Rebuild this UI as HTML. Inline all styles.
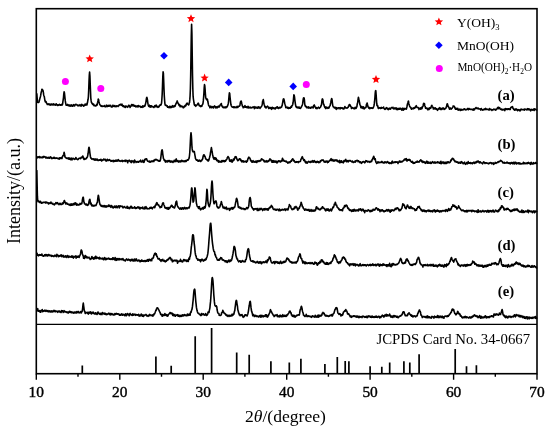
<!DOCTYPE html>
<html><head><meta charset="utf-8"><title>XRD</title>
<style>html,body{margin:0;padding:0;background:#fff;}svg{display:block;}</style>
</head><body>
<svg width="550" height="429" viewBox="0 0 550 429">
<rect width="550" height="429" fill="#fff"/>
<g fill="none" stroke="#000" stroke-width="1.6" stroke-linejoin="round" stroke-linecap="round">
<path d="M36.8 93.9L37.1 97.5L37.4 101.0L37.7 102.4L38.0 102.4L38.3 102.4L38.6 102.5L38.9 102.2L39.2 101.3L39.5 100.0L39.8 98.9L40.1 97.7L40.4 96.7L40.7 95.4L41.0 93.4L41.3 91.9L41.6 91.0L41.9 89.2L42.2 89.4L42.5 89.8L42.8 89.9L43.1 90.9L43.4 92.7L43.7 94.9L44.0 96.0L44.3 96.6L44.6 98.6L44.9 100.5L45.2 101.5L45.5 102.0L45.8 101.9L46.1 101.7L46.4 102.9L46.7 103.2L47.0 103.7L47.3 104.5L47.6 104.1L47.9 104.2L48.2 104.4L48.5 104.0L48.8 103.8L49.1 103.9L49.4 104.7L49.7 104.7L50.0 104.4L50.3 105.1L50.6 104.6L50.9 104.0L51.2 104.8L51.5 104.5L51.8 104.1L52.1 104.8L52.4 104.6L52.7 104.6L53.0 104.9L53.3 103.7L53.6 104.0L53.9 104.6L54.2 104.9L54.5 104.6L54.8 104.3L55.1 104.4L55.4 104.9L55.7 105.2L56.0 104.2L56.3 103.9L56.6 104.7L56.9 104.8L57.2 104.7L57.5 105.4L57.8 105.5L58.1 104.9L58.4 105.0L58.7 105.3L59.0 104.8L59.3 104.4L59.6 104.9L59.9 104.7L60.2 105.1L60.5 104.8L60.8 104.9L61.1 105.1L61.4 104.8L61.7 104.3L62.0 104.1L62.3 105.0L62.6 104.1L62.9 101.6L63.2 99.7L63.5 97.6L63.8 93.9L64.1 91.8L64.4 92.7L64.7 95.4L65.0 98.4L65.3 100.9L65.6 102.8L65.9 104.2L66.2 105.3L66.5 105.3L66.8 104.9L67.1 105.4L67.4 105.0L67.7 104.4L68.0 105.0L68.3 105.6L68.6 105.1L68.9 105.6L69.2 105.2L69.5 105.2L69.8 105.0L70.1 106.3L70.4 105.9L70.7 105.9L71.0 105.1L71.3 104.8L71.6 105.8L71.9 105.4L72.2 106.1L72.5 105.7L72.8 106.1L73.1 105.1L73.4 104.6L73.7 105.6L74.0 105.5L74.3 105.6L74.6 105.9L74.9 105.0L75.2 104.6L75.5 104.6L75.8 104.3L76.1 104.3L76.4 104.6L76.7 104.8L77.0 105.0L77.3 104.9L77.6 105.4L77.9 105.8L78.2 105.5L78.5 105.6L78.8 105.1L79.1 105.6L79.4 105.7L79.7 105.1L80.0 104.6L80.3 105.2L80.6 105.6L80.9 106.1L81.2 105.6L81.5 105.9L81.8 104.4L82.1 104.9L82.4 105.1L82.7 105.1L83.0 105.0L83.3 105.4L83.6 106.1L83.9 105.5L84.2 105.8L84.5 105.3L84.8 104.9L85.1 104.0L85.4 104.9L85.7 105.1L86.0 104.3L86.3 104.1L86.6 104.2L86.9 105.0L87.2 103.5L87.5 102.5L87.8 100.6L88.1 99.3L88.4 96.6L88.7 90.4L89.0 82.1L89.3 75.3L89.6 72.1L89.9 75.9L90.2 83.8L90.5 91.3L90.8 98.1L91.1 100.4L91.4 102.3L91.7 102.7L92.0 103.3L92.3 103.5L92.6 104.4L92.9 104.5L93.2 104.2L93.5 104.0L93.8 105.3L94.1 105.7L94.4 105.7L94.7 105.4L95.0 105.7L95.3 105.9L95.6 105.8L95.9 106.0L96.2 105.3L96.5 105.0L96.8 104.3L97.1 105.1L97.4 103.3L97.7 102.2L98.0 100.7L98.3 99.0L98.6 99.6L98.9 101.4L99.2 102.6L99.5 103.7L99.8 104.4L100.1 104.8L100.4 105.3L100.7 105.8L101.0 106.1L101.3 106.3L101.6 105.9L101.9 105.7L102.2 106.3L102.5 106.3L102.8 106.5L103.1 106.2L103.4 106.3L103.7 106.3L104.0 106.3L104.3 105.6L104.6 105.9L104.9 106.3L105.2 106.9L105.5 106.3L105.8 106.3L106.1 105.8L106.4 105.2L106.7 106.6L107.0 106.7L107.3 106.6L107.6 105.6L107.9 106.1L108.2 106.1L108.5 105.4L108.8 106.1L109.1 105.9L109.4 106.1L109.7 105.3L110.0 105.5L110.3 105.6L110.6 105.3L110.9 106.2L111.2 106.8L111.5 106.4L111.8 106.6L112.1 107.0L112.4 106.6L112.7 105.9L113.0 105.2L113.3 106.1L113.6 106.0L113.9 106.0L114.2 106.5L114.5 106.4L114.8 105.5L115.1 106.1L115.4 106.1L115.7 106.6L116.0 106.4L116.3 106.6L116.6 105.9L116.9 105.9L117.2 105.8L117.5 106.0L117.8 106.1L118.1 106.5L118.4 105.7L118.7 105.8L119.0 105.2L119.3 104.8L119.6 104.9L119.9 104.5L120.2 104.8L120.5 104.3L120.8 104.2L121.1 104.8L121.4 105.4L121.7 104.6L122.0 104.1L122.3 105.1L122.6 105.8L122.9 106.4L123.2 106.0L123.5 105.7L123.8 106.6L124.1 106.8L124.4 106.3L124.7 106.4L125.0 106.7L125.3 107.5L125.6 106.2L125.9 106.0L126.2 106.3L126.5 106.6L126.8 106.3L127.1 106.6L127.4 107.0L127.7 107.3L128.0 106.4L128.3 106.1L128.6 105.9L128.9 105.2L129.2 105.5L129.5 106.1L129.8 106.5L130.1 107.4L130.4 106.9L130.7 106.4L131.0 106.3L131.3 105.2L131.6 104.7L131.9 104.5L132.2 104.9L132.5 105.8L132.8 104.9L133.1 104.7L133.4 105.2L133.7 105.9L134.0 106.1L134.3 106.2L134.6 105.4L134.9 105.5L135.2 106.0L135.5 106.4L135.8 106.9L136.1 106.0L136.4 106.6L136.7 106.4L137.0 106.6L137.3 106.0L137.6 105.8L137.9 106.9L138.2 106.5L138.5 105.6L138.8 106.5L139.1 106.1L139.4 106.3L139.7 106.3L140.0 106.0L140.3 106.8L140.6 106.5L140.9 107.3L141.2 107.0L141.5 106.8L141.8 106.9L142.1 107.3L142.4 106.1L142.7 105.9L143.0 106.1L143.3 106.9L143.6 106.9L143.9 106.4L144.2 106.1L144.5 105.3L144.8 106.2L145.1 105.3L145.4 104.4L145.7 103.1L146.0 101.6L146.3 99.3L146.6 97.7L146.9 97.4L147.2 98.4L147.5 100.4L147.8 102.8L148.1 104.4L148.4 105.6L148.7 106.3L149.0 105.3L149.3 105.1L149.6 106.0L149.9 106.9L150.2 106.4L150.5 105.8L150.8 107.2L151.1 106.8L151.4 105.8L151.7 106.1L152.0 106.5L152.3 106.4L152.6 106.6L152.9 106.9L153.2 106.9L153.5 107.3L153.8 106.9L154.1 107.3L154.4 106.4L154.7 105.8L155.0 105.5L155.3 106.1L155.6 106.7L155.9 106.8L156.2 105.1L156.5 106.2L156.8 106.2L157.1 106.8L157.4 106.4L157.7 106.8L158.0 107.4L158.3 106.7L158.6 106.4L158.9 106.8L159.2 106.4L159.5 105.9L159.8 105.1L160.1 105.2L160.4 104.7L160.7 105.1L161.0 104.9L161.3 104.0L161.6 102.8L161.9 98.7L162.2 93.9L162.5 86.3L162.8 77.1L163.1 71.8L163.4 73.5L163.7 81.1L164.0 89.2L164.3 96.1L164.6 100.2L164.9 103.6L165.2 105.2L165.5 105.2L165.8 105.4L166.1 105.2L166.4 105.8L166.7 106.0L167.0 106.2L167.3 105.9L167.6 107.2L167.9 106.9L168.2 107.2L168.5 107.0L168.8 106.8L169.1 107.8L169.4 107.4L169.7 106.2L170.0 106.6L170.3 106.6L170.6 106.6L170.9 107.7L171.2 106.6L171.5 107.3L171.8 106.3L172.1 107.3L172.4 106.5L172.7 105.7L173.0 106.7L173.3 106.9L173.6 106.3L173.9 106.8L174.2 105.8L174.5 106.6L174.8 106.4L175.1 106.3L175.4 105.0L175.7 104.6L176.0 103.5L176.3 103.2L176.6 102.4L176.9 101.9L177.2 100.9L177.5 101.8L177.8 102.5L178.1 103.6L178.4 103.6L178.7 104.3L179.0 105.3L179.3 105.5L179.6 104.7L179.9 105.9L180.2 106.8L180.5 106.3L180.8 105.7L181.1 106.4L181.4 106.6L181.7 106.4L182.0 106.7L182.3 106.3L182.6 106.7L182.9 107.1L183.2 107.8L183.5 107.3L183.8 107.5L184.1 106.9L184.4 106.1L184.7 106.0L185.0 106.6L185.3 105.4L185.6 105.1L185.9 105.7L186.2 104.5L186.5 103.7L186.8 104.1L187.1 103.1L187.4 103.7L187.7 104.0L188.0 104.3L188.3 104.5L188.6 104.9L188.9 104.5L189.2 103.0L189.5 102.6L189.8 99.9L190.1 95.8L190.4 88.5L190.7 74.7L191.0 55.4L191.3 35.5L191.6 24.3L191.9 33.4L192.2 53.9L192.5 74.6L192.8 88.1L193.1 96.2L193.4 99.0L193.7 100.9L194.0 103.0L194.3 104.6L194.6 105.3L194.9 105.0L195.2 104.9L195.5 105.6L195.8 106.3L196.1 105.6L196.4 105.2L196.7 105.3L197.0 104.8L197.3 104.3L197.6 104.5L197.9 103.6L198.2 103.2L198.5 103.5L198.8 104.3L199.1 105.4L199.4 106.0L199.7 105.7L200.0 105.8L200.3 106.0L200.6 105.9L200.9 106.6L201.2 105.9L201.5 106.2L201.8 106.3L202.1 105.2L202.4 104.7L202.7 104.3L203.0 103.3L203.3 100.9L203.6 97.5L203.9 93.4L204.2 87.8L204.5 84.6L204.8 85.7L205.1 89.3L205.4 94.1L205.7 97.6L206.0 98.6L206.3 98.9L206.6 99.7L206.9 99.2L207.2 99.1L207.5 99.5L207.8 101.5L208.1 102.8L208.4 104.4L208.7 105.6L209.0 105.9L209.3 106.1L209.6 106.4L209.9 107.8L210.2 106.5L210.5 106.9L210.8 106.2L211.1 106.6L211.4 107.6L211.7 107.0L212.0 107.6L212.3 107.2L212.6 107.5L212.9 106.5L213.2 106.7L213.5 107.9L213.8 107.5L214.1 106.8L214.4 106.7L214.7 105.9L215.0 106.8L215.3 106.6L215.6 106.9L215.9 107.9L216.2 107.2L216.5 106.9L216.8 106.8L217.1 107.6L217.4 107.6L217.7 106.8L218.0 106.3L218.3 106.9L218.6 107.0L218.9 106.2L219.2 107.1L219.5 106.2L219.8 106.0L220.1 105.1L220.4 104.5L220.7 104.6L221.0 104.0L221.3 103.5L221.6 104.9L221.9 105.9L222.2 106.2L222.5 106.9L222.8 106.5L223.1 107.4L223.4 107.3L223.7 107.4L224.0 107.9L224.3 107.6L224.6 107.1L224.9 107.3L225.2 106.9L225.5 107.4L225.8 107.9L226.1 107.6L226.4 106.7L226.7 106.7L227.0 106.9L227.3 106.6L227.6 105.5L227.9 105.0L228.2 103.9L228.5 102.2L228.8 98.8L229.1 95.4L229.4 92.9L229.7 93.4L230.0 96.8L230.3 99.6L230.6 102.1L230.9 104.6L231.2 105.6L231.5 106.1L231.8 106.8L232.1 106.7L232.4 107.2L232.7 107.2L233.0 106.9L233.3 106.8L233.6 106.9L233.9 107.6L234.2 107.2L234.5 106.9L234.8 107.6L235.1 107.6L235.4 107.4L235.7 107.4L236.0 107.1L236.3 107.1L236.6 107.6L236.9 106.7L237.2 106.3L237.5 106.5L237.8 107.4L238.1 106.7L238.4 106.8L238.7 106.5L239.0 106.1L239.3 106.1L239.6 105.8L239.9 105.6L240.2 103.3L240.5 101.9L240.8 101.4L241.1 101.0L241.4 101.7L241.7 103.2L242.0 104.4L242.3 105.9L242.6 106.4L242.9 106.5L243.2 107.7L243.5 107.4L243.8 107.5L244.1 107.0L244.4 106.5L244.7 106.1L245.0 105.7L245.3 107.2L245.6 106.7L245.9 107.1L246.2 107.3L246.5 106.8L246.8 107.2L247.1 107.7L247.4 107.6L247.7 107.6L248.0 106.4L248.3 107.7L248.6 107.9L248.9 107.1L249.2 107.8L249.5 107.5L249.8 107.5L250.1 107.7L250.4 107.1L250.7 107.8L251.0 107.5L251.3 107.9L251.6 107.7L251.9 107.7L252.2 107.3L252.5 107.4L252.8 107.0L253.1 107.1L253.4 106.9L253.7 107.4L254.0 107.4L254.3 108.6L254.6 107.2L254.9 106.6L255.2 107.9L255.5 107.6L255.8 107.9L256.1 107.6L256.4 107.2L256.7 107.2L257.0 107.2L257.3 108.3L257.6 107.9L257.9 107.1L258.2 108.0L258.5 107.8L258.8 106.7L259.1 107.0L259.4 107.6L259.7 107.9L260.0 108.5L260.3 107.7L260.6 107.7L260.9 107.0L261.2 106.8L261.5 106.5L261.8 105.8L262.1 104.9L262.4 103.2L262.7 100.9L263.0 100.3L263.3 99.6L263.6 101.5L263.9 103.3L264.2 104.7L264.5 105.4L264.8 106.5L265.1 107.2L265.4 106.8L265.7 106.7L266.0 108.0L266.3 107.5L266.6 107.1L266.9 106.9L267.2 106.6L267.5 106.1L267.8 106.7L268.1 106.9L268.4 107.3L268.7 108.5L269.0 107.8L269.3 107.5L269.6 107.6L269.9 107.5L270.2 108.4L270.5 108.4L270.8 107.6L271.1 108.2L271.4 108.5L271.7 109.3L272.0 108.5L272.3 107.2L272.6 107.5L272.9 108.2L273.2 108.3L273.5 108.5L273.8 107.9L274.1 108.1L274.4 108.6L274.7 108.2L275.0 108.1L275.3 109.0L275.6 108.0L275.9 107.8L276.2 107.4L276.5 107.6L276.8 107.1L277.1 108.1L277.4 106.9L277.7 107.9L278.0 107.4L278.3 108.0L278.6 108.5L278.9 107.9L279.2 107.8L279.5 107.3L279.8 107.5L280.1 108.0L280.4 107.3L280.7 107.7L281.0 107.4L281.3 107.0L281.6 107.0L281.9 105.8L282.2 105.3L282.5 103.5L282.8 102.1L283.1 99.9L283.4 99.0L283.7 98.8L284.0 99.5L284.3 100.9L284.6 102.6L284.9 103.9L285.2 105.0L285.5 105.9L285.8 107.6L286.1 107.2L286.4 107.1L286.7 107.3L287.0 107.2L287.3 108.1L287.6 107.3L287.9 107.2L288.2 108.4L288.5 108.4L288.8 108.0L289.1 107.6L289.4 108.2L289.7 107.7L290.0 107.8L290.3 108.1L290.6 107.6L290.9 106.9L291.2 106.3L291.5 107.2L291.8 105.9L292.1 105.9L292.4 105.4L292.7 104.5L293.0 103.0L293.3 101.1L293.6 97.9L293.9 94.8L294.2 95.4L294.5 96.9L294.8 99.6L295.1 101.8L295.4 104.1L295.7 105.5L296.0 106.7L296.3 107.1L296.6 107.3L296.9 106.7L297.2 107.7L297.5 107.3L297.8 107.6L298.1 107.9L298.4 107.9L298.7 107.3L299.0 106.9L299.3 107.9L299.6 108.3L299.9 108.3L300.2 108.3L300.5 108.4L300.8 107.8L301.1 107.1L301.4 107.1L301.7 106.0L302.0 105.7L302.3 105.0L302.6 103.9L302.9 101.5L303.2 99.4L303.5 97.9L303.8 97.8L304.1 98.0L304.4 99.8L304.7 103.6L305.0 105.3L305.3 106.1L305.6 106.6L305.9 106.4L306.2 106.4L306.5 107.2L306.8 107.0L307.1 107.9L307.4 107.7L307.7 107.0L308.0 107.5L308.3 106.8L308.6 107.3L308.9 108.1L309.2 107.5L309.5 107.5L309.8 107.4L310.1 107.6L310.4 108.3L310.7 108.2L311.0 107.9L311.3 107.1L311.6 107.4L311.9 107.3L312.2 107.4L312.5 107.0L312.8 107.7L313.1 108.0L313.4 106.4L313.7 105.5L314.0 105.7L314.3 104.9L314.6 105.8L314.9 106.9L315.2 107.0L315.5 107.5L315.8 108.3L316.1 108.0L316.4 108.0L316.7 107.6L317.0 108.7L317.3 108.0L317.6 108.1L317.9 107.9L318.2 107.7L318.5 107.2L318.8 107.5L319.1 107.9L319.4 108.4L319.7 107.8L320.0 107.3L320.3 107.3L320.6 106.9L320.9 106.1L321.2 105.4L321.5 104.5L321.8 102.1L322.1 99.7L322.4 98.9L322.7 99.3L323.0 100.5L323.3 102.7L323.6 104.5L323.9 104.5L324.2 105.6L324.5 106.7L324.8 107.3L325.1 106.8L325.4 108.1L325.7 108.6L326.0 108.5L326.3 107.9L326.6 107.2L326.9 107.4L327.2 107.5L327.5 107.9L327.8 108.3L328.1 108.0L328.4 107.4L328.7 108.1L329.0 108.0L329.3 106.8L329.6 106.3L329.9 106.0L330.2 105.4L330.5 103.7L330.8 102.7L331.1 100.7L331.4 99.3L331.7 98.5L332.0 99.4L332.3 102.0L332.6 104.6L332.9 105.8L333.2 106.8L333.5 106.7L333.8 107.0L334.1 107.6L334.4 108.0L334.7 107.8L335.0 107.2L335.3 107.2L335.6 108.0L335.9 108.3L336.2 109.4L336.5 108.1L336.8 107.7L337.1 108.4L337.4 108.1L337.7 108.3L338.0 108.6L338.3 107.8L338.6 107.8L338.9 107.8L339.2 107.8L339.5 107.8L339.8 108.2L340.1 108.9L340.4 108.2L340.7 107.7L341.0 108.0L341.3 107.9L341.6 108.2L341.9 108.2L342.2 107.8L342.5 108.1L342.8 108.7L343.1 109.0L343.4 108.5L343.7 109.0L344.0 108.8L344.3 107.7L344.6 107.5L344.9 106.5L345.2 107.3L345.5 107.9L345.8 107.7L346.1 108.0L346.4 108.0L346.7 108.1L347.0 107.8L347.3 108.0L347.6 107.8L347.9 107.5L348.2 107.2L348.5 106.0L348.8 106.2L349.1 104.9L349.4 104.6L349.7 104.6L350.0 105.0L350.3 105.4L350.6 106.3L350.9 106.5L351.2 107.1L351.5 108.5L351.8 108.1L352.1 107.8L352.4 107.6L352.7 108.0L353.0 108.2L353.3 108.4L353.6 108.1L353.9 108.3L354.2 108.8L354.5 108.6L354.8 108.4L355.1 107.3L355.4 107.7L355.7 108.4L356.0 108.0L356.3 108.1L356.6 107.1L356.9 106.7L357.2 104.4L357.5 103.3L357.8 101.8L358.1 99.1L358.4 97.3L358.7 98.5L359.0 100.3L359.3 101.4L359.6 102.6L359.9 104.6L360.2 105.2L360.5 105.7L360.8 107.4L361.1 107.9L361.4 107.7L361.7 107.0L362.0 106.6L362.3 108.0L362.6 108.2L362.9 108.4L363.2 107.2L363.5 106.8L363.8 108.4L364.1 109.0L364.4 108.7L364.7 108.3L365.0 108.0L365.3 107.7L365.6 107.0L365.9 107.6L366.2 106.4L366.5 104.2L366.8 104.3L367.1 103.0L367.4 104.3L367.7 105.3L368.0 106.9L368.3 107.0L368.6 107.4L368.9 108.2L369.2 107.5L369.5 107.7L369.8 108.7L370.1 108.5L370.4 108.2L370.7 107.8L371.0 107.9L371.3 107.9L371.6 108.2L371.9 108.1L372.2 107.8L372.5 107.9L372.8 108.4L373.1 107.9L373.4 107.3L373.7 106.5L374.0 105.5L374.3 103.7L374.6 101.2L374.9 97.7L375.2 93.5L375.5 90.8L375.8 90.6L376.1 94.2L376.4 98.9L376.7 103.2L377.0 105.6L377.3 105.7L377.6 105.3L377.9 107.1L378.2 108.0L378.5 108.5L378.8 107.7L379.1 107.8L379.4 108.0L379.7 108.1L380.0 107.7L380.3 108.3L380.6 108.1L380.9 108.4L381.2 108.2L381.5 107.4L381.8 108.2L382.1 107.8L382.4 107.8L382.7 107.8L383.0 107.7L383.3 108.0L383.6 107.1L383.9 108.0L384.2 108.6L384.5 108.9L384.8 109.3L385.1 109.4L385.4 109.2L385.7 108.6L386.0 108.1L386.3 107.7L386.6 108.2L386.9 108.6L387.2 108.4L387.5 108.2L387.8 109.2L388.1 109.6L388.4 108.9L388.7 109.3L389.0 109.0L389.3 108.2L389.6 108.5L389.9 108.4L390.2 109.1L390.5 109.1L390.8 108.4L391.1 107.7L391.4 107.7L391.7 107.5L392.0 107.7L392.3 107.9L392.6 107.8L392.9 107.3L393.2 108.4L393.5 108.9L393.8 108.3L394.1 108.2L394.4 108.8L394.7 108.1L395.0 108.3L395.3 108.4L395.6 108.0L395.9 107.9L396.2 109.4L396.5 108.6L396.8 108.2L397.1 109.5L397.4 109.2L397.7 109.7L398.0 109.6L398.3 108.6L398.6 109.2L398.9 109.2L399.2 108.4L399.5 108.4L399.8 109.3L400.1 108.9L400.4 108.2L400.7 108.3L401.0 108.7L401.3 108.7L401.6 109.9L401.9 110.2L402.2 109.4L402.5 108.6L402.8 108.2L403.1 108.7L403.4 110.1L403.7 109.7L404.0 108.5L404.3 108.6L404.6 109.2L404.9 108.6L405.2 108.5L405.5 108.9L405.8 109.0L406.1 108.7L406.4 109.1L406.7 107.8L407.0 106.5L407.3 104.7L407.6 103.6L407.9 102.7L408.2 101.5L408.5 101.1L408.8 103.7L409.1 104.4L409.4 105.4L409.7 106.3L410.0 106.9L410.3 106.8L410.6 107.9L410.9 107.7L411.2 107.9L411.5 109.2L411.8 108.8L412.1 108.8L412.4 108.6L412.7 108.3L413.0 108.1L413.3 108.8L413.6 108.1L413.9 107.7L414.2 107.7L414.5 108.3L414.8 108.1L415.1 107.7L415.4 106.7L415.7 106.3L416.0 106.5L416.3 105.7L416.6 106.9L416.9 107.4L417.2 107.5L417.5 107.5L417.8 107.4L418.1 107.5L418.4 107.9L418.7 108.6L419.0 109.6L419.3 108.6L419.6 108.5L419.9 108.4L420.2 107.9L420.5 108.2L420.8 109.3L421.1 108.6L421.4 107.6L421.7 107.4L422.0 108.6L422.3 107.6L422.6 106.6L422.9 106.5L423.2 105.2L423.5 103.7L423.8 103.3L424.1 103.6L424.4 103.5L424.7 105.2L425.0 106.1L425.3 106.9L425.6 108.3L425.9 108.1L426.2 108.4L426.5 108.2L426.8 108.0L427.1 108.6L427.4 108.4L427.7 109.7L428.0 109.7L428.3 108.6L428.6 108.3L428.9 108.5L429.2 109.4L429.5 108.2L429.8 107.8L430.1 107.7L430.4 107.8L430.7 108.3L431.0 107.1L431.3 106.4L431.6 105.6L431.9 105.3L432.2 106.5L432.5 107.1L432.8 107.1L433.1 107.4L433.4 109.0L433.7 108.5L434.0 108.0L434.3 108.2L434.6 108.8L434.9 108.9L435.2 107.7L435.5 108.8L435.8 109.0L436.1 109.2L436.4 108.7L436.7 109.4L437.0 109.0L437.3 109.8L437.6 110.3L437.9 109.5L438.2 109.3L438.5 109.1L438.8 108.3L439.1 109.0L439.4 108.1L439.7 107.7L440.0 108.9L440.3 109.3L440.6 108.6L440.9 108.3L441.2 109.4L441.5 108.5L441.8 109.4L442.1 108.9L442.4 108.5L442.7 108.8L443.0 107.7L443.3 108.3L443.6 108.8L443.9 109.0L444.2 109.4L444.5 108.5L444.8 108.9L445.1 108.6L445.4 108.7L445.7 108.3L446.0 108.0L446.3 106.8L446.6 106.3L446.9 104.7L447.2 103.7L447.5 104.1L447.8 105.2L448.1 106.6L448.4 106.4L448.7 107.3L449.0 107.6L449.3 108.8L449.6 109.2L449.9 109.0L450.2 108.0L450.5 108.1L450.8 108.7L451.1 109.0L451.4 109.1L451.7 108.5L452.0 108.5L452.3 107.9L452.6 107.4L452.9 106.8L453.2 105.9L453.5 106.3L453.8 106.3L454.1 106.2L454.4 106.4L454.7 107.7L455.0 107.6L455.3 108.8L455.6 109.3L455.9 109.3L456.2 108.2L456.5 108.9L456.8 108.9L457.1 109.4L457.4 109.1L457.7 108.2L458.0 109.4L458.3 110.2L458.6 109.7L458.9 109.7L459.2 109.4L459.5 109.5L459.8 109.2L460.1 110.3L460.4 110.5L460.7 109.2L461.0 109.4L461.3 109.3L461.6 110.1L461.9 109.7L462.2 109.8L462.5 109.5L462.8 110.0L463.1 109.9L463.4 109.7L463.7 109.5L464.0 108.8L464.3 109.5L464.6 108.9L464.9 109.0L465.2 109.4L465.5 109.8L465.8 109.9L466.1 109.7L466.4 109.6L466.7 109.7L467.0 109.1L467.3 109.3L467.6 108.9L467.9 108.4L468.2 108.8L468.5 109.7L468.8 109.0L469.1 108.5L469.4 109.2L469.7 109.0L470.0 109.0L470.3 109.2L470.6 109.5L470.9 109.5L471.2 109.3L471.5 109.4L471.8 109.4L472.1 109.6L472.4 109.7L472.7 109.6L473.0 110.2L473.3 109.0L473.6 108.9L473.9 109.2L474.2 109.9L474.5 109.7L474.8 109.1L475.1 108.4L475.4 108.4L475.7 107.9L476.0 107.5L476.3 108.1L476.6 108.5L476.9 108.2L477.2 108.1L477.5 108.7L477.8 108.4L478.1 108.1L478.4 108.2L478.7 108.9L479.0 109.0L479.3 108.9L479.6 109.0L479.9 109.0L480.2 108.8L480.5 109.6L480.8 110.1L481.1 109.2L481.4 108.5L481.7 109.2L482.0 109.5L482.3 109.8L482.6 110.1L482.9 110.0L483.2 110.0L483.5 109.5L483.8 109.5L484.1 109.1L484.4 109.2L484.7 109.7L485.0 109.3L485.3 108.5L485.6 108.4L485.9 109.5L486.2 109.3L486.5 109.1L486.8 109.0L487.1 109.5L487.4 109.4L487.7 109.3L488.0 109.3L488.3 109.4L488.6 109.9L488.9 109.8L489.2 109.9L489.5 108.6L489.8 109.0L490.1 109.7L490.4 109.2L490.7 109.3L491.0 109.3L491.3 109.5L491.6 109.8L491.9 110.5L492.2 110.2L492.5 109.7L492.8 109.8L493.1 109.8L493.4 109.4L493.7 109.2L494.0 109.7L494.3 109.7L494.6 109.2L494.9 109.3L495.2 109.6L495.5 109.8L495.8 110.2L496.1 109.3L496.4 109.0L496.7 109.2L497.0 108.6L497.3 108.4L497.6 107.5L497.9 108.2L498.2 108.7L498.5 107.3L498.8 107.2L499.1 108.0L499.4 108.5L499.7 107.8L500.0 108.6L500.3 109.1L500.6 109.3L500.9 109.4L501.2 109.3L501.5 109.1L501.8 109.0L502.1 110.1L502.4 109.8L502.7 110.0L503.0 109.6L503.3 109.5L503.6 109.5L503.9 109.8L504.2 109.4L504.5 109.0L504.8 110.6L505.1 109.8L505.4 109.0L505.7 108.6L506.0 109.0L506.3 109.2L506.6 109.1L506.9 109.5L507.2 108.9L507.5 109.4L507.8 109.5L508.1 108.9L508.4 108.7L508.7 108.9L509.0 109.3L509.3 109.1L509.6 109.1L509.9 109.4L510.2 109.5L510.5 108.4L510.8 107.6L511.1 107.5L511.4 107.1L511.7 107.1L512.0 106.8L512.3 106.6L512.6 106.9L512.9 108.2L513.2 108.3L513.5 109.0L513.8 109.5L514.1 109.7L514.4 109.4L514.7 110.3L515.0 110.2L515.3 109.6L515.6 109.3L515.9 108.8L516.2 109.7L516.5 109.9L516.8 109.4L517.1 109.5L517.4 109.5L517.7 110.8L518.0 109.7L518.3 109.8L518.6 109.9L518.9 109.6L519.2 110.0L519.5 110.4L519.8 110.9L520.1 110.7L520.4 110.8L520.7 109.4L521.0 109.2L521.3 109.1L521.6 109.6L521.9 109.5L522.2 109.5L522.5 109.8L522.8 109.8L523.1 109.4L523.4 109.7L523.7 109.7L524.0 109.8L524.3 110.1L524.6 109.0L524.9 109.3L525.2 109.4L525.5 109.4L525.8 109.4L526.1 109.3L526.4 109.4L526.7 110.0L527.0 109.9L527.3 109.0L527.6 108.7L527.9 109.1L528.2 108.9L528.5 109.7L528.8 109.7L529.1 108.9L529.4 109.8L529.7 109.6L530.0 109.3L530.3 110.4L530.6 110.9L530.9 110.0L531.2 109.8L531.5 109.4L531.8 109.9L532.1 109.7L532.4 110.1L532.7 109.8L533.0 109.9L533.3 109.5L533.6 109.1L533.9 110.1L534.2 110.5L534.5 108.9L534.8 109.6L535.1 109.3L535.4 109.1L535.7 109.8L536.0 109.8L536.3 109.9L536.6 110.0"/>
<path d="M36.8 157.2L37.1 157.9L37.4 157.8L37.7 156.9L38.0 156.9L38.3 156.9L38.6 157.4L38.9 157.3L39.2 157.3L39.5 156.5L39.8 157.8L40.1 157.4L40.4 157.6L40.7 157.2L41.0 157.1L41.3 157.6L41.6 157.7L41.9 157.3L42.2 157.3L42.5 157.6L42.8 156.9L43.1 156.6L43.4 157.4L43.7 156.9L44.0 156.4L44.3 156.8L44.6 157.0L44.9 156.7L45.2 156.7L45.5 157.5L45.8 158.0L46.1 157.5L46.4 157.2L46.7 157.8L47.0 158.0L47.3 157.6L47.6 158.0L47.9 158.2L48.2 157.6L48.5 157.3L48.8 157.8L49.1 158.0L49.4 158.2L49.7 157.2L50.0 157.2L50.3 157.2L50.6 156.9L50.9 157.8L51.2 158.1L51.5 157.7L51.8 158.6L52.1 158.5L52.4 158.4L52.7 158.3L53.0 158.3L53.3 157.5L53.6 158.2L53.9 158.2L54.2 157.3L54.5 158.0L54.8 158.1L55.1 158.4L55.4 158.0L55.7 158.1L56.0 158.2L56.3 157.8L56.6 158.3L56.9 158.2L57.2 158.3L57.5 158.1L57.8 158.7L58.1 158.6L58.4 158.3L58.7 158.7L59.0 159.1L59.3 159.1L59.6 157.8L59.9 158.6L60.2 158.5L60.5 158.1L60.8 157.8L61.1 158.5L61.4 157.7L61.7 158.3L62.0 158.4L62.3 156.9L62.6 156.7L62.9 155.7L63.2 155.5L63.5 155.2L63.8 154.2L64.1 152.3L64.4 153.4L64.7 155.5L65.0 157.0L65.3 157.3L65.6 157.3L65.9 158.0L66.2 158.1L66.5 158.0L66.8 158.0L67.1 158.5L67.4 158.6L67.7 158.4L68.0 158.2L68.3 157.8L68.6 158.3L68.9 159.1L69.2 158.4L69.5 158.0L69.8 159.2L70.1 159.2L70.4 159.7L70.7 158.8L71.0 158.3L71.3 158.0L71.6 159.4L71.9 160.0L72.2 158.5L72.5 158.4L72.8 158.8L73.1 158.3L73.4 158.5L73.7 158.6L74.0 158.9L74.3 159.3L74.6 159.0L74.9 159.2L75.2 158.7L75.5 158.7L75.8 157.6L76.1 157.9L76.4 159.0L76.7 158.7L77.0 159.1L77.3 159.3L77.6 159.6L77.9 159.5L78.2 159.4L78.5 158.8L78.8 158.4L79.1 158.3L79.4 158.3L79.7 158.1L80.0 158.3L80.3 158.6L80.6 158.7L80.9 158.1L81.2 157.2L81.5 157.6L81.8 157.6L82.1 157.5L82.4 156.8L82.7 156.1L83.0 156.5L83.3 158.2L83.6 158.5L83.9 159.3L84.2 159.5L84.5 158.4L84.8 158.8L85.1 159.0L85.4 159.1L85.7 159.0L86.0 158.8L86.3 158.5L86.6 157.6L86.9 157.8L87.2 157.2L87.5 156.6L87.8 155.1L88.1 153.5L88.4 151.0L88.7 148.3L89.0 147.2L89.3 148.1L89.6 150.4L89.9 153.1L90.2 155.2L90.5 157.0L90.8 157.9L91.1 158.5L91.4 158.2L91.7 159.1L92.0 158.7L92.3 158.7L92.6 159.0L92.9 159.0L93.2 159.4L93.5 159.0L93.8 158.8L94.1 159.1L94.4 160.1L94.7 159.6L95.0 159.0L95.3 159.3L95.6 159.1L95.9 160.2L96.2 159.2L96.5 159.8L96.8 159.9L97.1 159.1L97.4 159.9L97.7 160.4L98.0 160.2L98.3 160.1L98.6 160.4L98.9 160.1L99.2 160.1L99.5 159.9L99.8 160.1L100.1 159.6L100.4 160.2L100.7 159.7L101.0 159.4L101.3 160.2L101.6 161.0L101.9 160.6L102.2 160.0L102.5 160.3L102.8 159.9L103.1 160.0L103.4 159.9L103.7 159.0L104.0 159.9L104.3 159.6L104.6 159.5L104.9 159.2L105.2 159.2L105.5 159.7L105.8 160.7L106.1 161.1L106.4 160.5L106.7 160.7L107.0 160.0L107.3 159.3L107.6 160.2L107.9 160.5L108.2 160.2L108.5 160.5L108.8 160.5L109.1 159.8L109.4 159.5L109.7 160.1L110.0 160.2L110.3 160.3L110.6 161.0L110.9 161.3L111.2 160.5L111.5 160.8L111.8 161.1L112.1 161.0L112.4 161.0L112.7 160.5L113.0 161.0L113.3 161.7L113.6 161.1L113.9 160.4L114.2 160.9L114.5 161.3L114.8 160.8L115.1 160.5L115.4 161.2L115.7 160.2L116.0 160.7L116.3 160.5L116.6 160.2L116.9 161.2L117.2 160.8L117.5 160.2L117.8 160.8L118.1 160.4L118.4 159.7L118.7 160.2L119.0 160.9L119.3 161.1L119.6 160.9L119.9 160.9L120.2 161.0L120.5 160.9L120.8 161.4L121.1 161.0L121.4 161.0L121.7 161.0L122.0 160.3L122.3 160.6L122.6 161.6L122.9 161.2L123.2 160.8L123.5 161.0L123.8 160.8L124.1 161.0L124.4 160.7L124.7 160.9L125.0 160.4L125.3 161.4L125.6 160.7L125.9 160.2L126.2 160.7L126.5 160.8L126.8 161.0L127.1 160.6L127.4 161.5L127.7 162.8L128.0 160.9L128.3 161.1L128.6 161.0L128.9 161.0L129.2 160.2L129.5 160.4L129.8 161.3L130.1 161.4L130.4 161.9L130.7 161.0L131.0 161.5L131.3 162.6L131.6 161.1L131.9 160.7L132.2 161.1L132.5 161.3L132.8 161.7L133.1 161.4L133.4 161.0L133.7 161.6L134.0 162.8L134.3 161.9L134.6 160.1L134.9 160.9L135.2 161.0L135.5 161.6L135.8 161.6L136.1 162.4L136.4 162.2L136.7 162.0L137.0 161.6L137.3 161.5L137.6 161.7L137.9 162.2L138.2 161.8L138.5 161.5L138.8 162.1L139.1 161.7L139.4 161.4L139.7 161.1L140.0 161.1L140.3 160.9L140.6 160.2L140.9 161.8L141.2 161.9L141.5 161.5L141.8 162.0L142.1 161.8L142.4 161.4L142.7 160.2L143.0 161.1L143.3 161.8L143.6 162.3L143.9 162.4L144.2 161.8L144.5 160.1L144.8 159.3L145.1 159.9L145.4 159.5L145.7 159.3L146.0 158.7L146.3 158.7L146.6 158.7L146.9 159.9L147.2 160.2L147.5 160.9L147.8 161.3L148.1 161.2L148.4 161.4L148.7 161.4L149.0 161.8L149.3 161.6L149.6 161.1L149.9 161.2L150.2 162.2L150.5 161.6L150.8 161.9L151.1 161.6L151.4 161.1L151.7 161.0L152.0 161.4L152.3 161.6L152.6 161.5L152.9 160.7L153.2 160.8L153.5 161.2L153.8 161.6L154.1 160.0L154.4 160.6L154.7 160.2L155.0 160.1L155.3 159.4L155.6 159.5L155.9 159.9L156.2 159.4L156.5 159.6L156.8 159.8L157.1 159.7L157.4 160.5L157.7 160.4L158.0 160.3L158.3 160.7L158.6 160.8L158.9 161.2L159.2 160.8L159.5 160.5L159.8 161.2L160.1 160.8L160.4 160.0L160.7 158.5L161.0 156.2L161.3 153.5L161.6 151.1L161.9 150.0L162.2 149.9L162.5 151.3L162.8 154.3L163.1 156.2L163.4 158.4L163.7 158.9L164.0 159.5L164.3 160.5L164.6 160.6L164.9 160.2L165.2 161.5L165.5 162.1L165.8 160.9L166.1 161.9L166.4 161.1L166.7 161.0L167.0 161.0L167.3 160.7L167.6 161.9L167.9 161.7L168.2 161.0L168.5 161.0L168.8 160.6L169.1 161.2L169.4 161.7L169.7 160.6L170.0 161.0L170.3 161.6L170.6 162.1L170.9 162.2L171.2 161.3L171.5 161.1L171.8 161.5L172.1 161.3L172.4 161.3L172.7 162.1L173.0 162.4L173.3 161.7L173.6 161.3L173.9 161.4L174.2 160.3L174.5 160.8L174.8 160.6L175.1 161.8L175.4 161.0L175.7 160.2L176.0 159.7L176.3 158.9L176.6 160.6L176.9 161.4L177.2 160.8L177.5 161.4L177.8 161.5L178.1 160.7L178.4 161.7L178.7 162.1L179.0 161.6L179.3 161.4L179.6 161.6L179.9 160.7L180.2 161.4L180.5 161.8L180.8 161.0L181.1 161.7L181.4 161.0L181.7 160.3L182.0 161.0L182.3 160.9L182.6 161.2L182.9 160.9L183.2 161.6L183.5 161.0L183.8 161.3L184.1 160.9L184.4 161.1L184.7 161.7L185.0 161.3L185.3 160.8L185.6 160.5L185.9 161.5L186.2 161.3L186.5 160.7L186.8 160.7L187.1 160.0L187.4 159.8L187.7 159.8L188.0 160.2L188.3 159.8L188.6 159.0L188.9 158.9L189.2 157.8L189.5 155.5L189.8 152.4L190.1 147.0L190.4 141.0L190.7 135.5L191.0 132.7L191.3 135.0L191.6 139.6L191.9 145.8L192.2 148.9L192.5 151.0L192.8 151.3L193.1 151.9L193.4 151.7L193.7 151.3L194.0 151.4L194.3 151.5L194.6 153.3L194.9 155.1L195.2 156.6L195.5 158.6L195.8 159.1L196.1 159.6L196.4 160.1L196.7 159.7L197.0 159.8L197.3 160.1L197.6 160.8L197.9 161.0L198.2 161.2L198.5 161.3L198.8 160.2L199.1 160.5L199.4 160.7L199.7 160.2L200.0 160.5L200.3 161.4L200.6 161.5L200.9 161.3L201.2 160.7L201.5 160.4L201.8 160.5L202.1 159.6L202.4 159.3L202.7 158.8L203.0 157.0L203.3 155.7L203.6 155.0L203.9 154.8L204.2 154.9L204.5 155.5L204.8 156.5L205.1 156.6L205.4 157.8L205.7 159.0L206.0 159.1L206.3 159.2L206.6 159.4L206.9 159.8L207.2 160.1L207.5 159.9L207.8 160.6L208.1 161.1L208.4 160.4L208.7 160.5L209.0 159.6L209.3 158.3L209.6 157.5L209.9 156.1L210.2 155.0L210.5 152.5L210.8 151.3L211.1 149.3L211.4 147.6L211.7 149.4L212.0 151.5L212.3 152.7L212.6 155.0L212.9 155.7L213.2 157.5L213.5 157.9L213.8 159.0L214.1 158.1L214.4 157.7L214.7 158.9L215.0 159.3L215.3 157.8L215.6 158.0L215.9 158.0L216.2 158.5L216.5 159.7L216.8 160.6L217.1 159.9L217.4 160.8L217.7 160.9L218.0 160.5L218.3 161.9L218.6 162.1L218.9 161.1L219.2 161.9L219.5 161.4L219.8 161.3L220.1 162.0L220.4 161.6L220.7 161.6L221.0 162.2L221.3 162.2L221.6 161.7L221.9 160.5L222.2 160.5L222.5 161.6L222.8 161.0L223.1 161.1L223.4 160.7L223.7 160.9L224.0 160.7L224.3 161.7L224.6 160.8L224.9 160.9L225.2 161.0L225.5 161.3L225.8 160.0L226.1 160.1L226.4 159.8L226.7 159.5L227.0 158.8L227.3 157.6L227.6 157.1L227.9 156.5L228.2 156.9L228.5 157.2L228.8 157.6L229.1 158.7L229.4 159.9L229.7 161.1L230.0 160.4L230.3 160.9L230.6 161.3L230.9 159.9L231.2 159.8L231.5 160.2L231.8 161.1L232.1 162.2L232.4 161.6L232.7 161.5L233.0 160.6L233.3 159.2L233.6 159.1L233.9 160.3L234.2 159.5L234.5 158.3L234.8 158.2L235.1 156.7L235.4 157.3L235.7 157.4L236.0 156.7L236.3 157.2L236.6 158.7L236.9 158.8L237.2 159.9L237.5 159.8L237.8 160.7L238.1 160.6L238.4 160.2L238.7 159.9L239.0 159.9L239.3 158.7L239.6 158.9L239.9 158.9L240.2 159.3L240.5 159.1L240.8 160.6L241.1 160.2L241.4 160.2L241.7 161.6L242.0 162.0L242.3 161.1L242.6 160.8L242.9 161.1L243.2 160.9L243.5 161.2L243.8 162.1L244.1 161.7L244.4 161.4L244.7 161.5L245.0 161.4L245.3 161.7L245.6 161.7L245.9 161.1L246.2 161.4L246.5 162.2L246.8 161.2L247.1 160.7L247.4 161.1L247.7 159.7L248.0 158.6L248.3 158.5L248.6 157.3L248.9 157.1L249.2 157.6L249.5 157.8L249.8 158.1L250.1 158.8L250.4 159.6L250.7 160.7L251.0 160.4L251.3 160.8L251.6 161.9L251.9 161.3L252.2 162.1L252.5 162.1L252.8 161.2L253.1 160.7L253.4 161.5L253.7 161.9L254.0 162.0L254.3 161.7L254.6 162.2L254.9 162.2L255.2 161.2L255.5 162.1L255.8 161.7L256.1 161.2L256.4 161.5L256.7 162.5L257.0 162.0L257.3 160.7L257.6 161.3L257.9 161.4L258.2 161.3L258.5 161.0L258.8 160.7L259.1 161.5L259.4 160.9L259.7 160.9L260.0 160.6L260.3 160.5L260.6 160.9L260.9 160.4L261.2 159.4L261.5 158.8L261.8 158.8L262.1 159.5L262.4 159.4L262.7 159.7L263.0 159.9L263.3 160.3L263.6 160.6L263.9 160.3L264.2 161.7L264.5 161.0L264.8 161.2L265.1 162.0L265.4 161.7L265.7 161.5L266.0 161.0L266.3 160.7L266.6 161.5L266.9 162.0L267.2 161.3L267.5 161.9L267.8 160.9L268.1 160.8L268.4 161.3L268.7 161.0L269.0 160.9L269.3 160.0L269.6 159.4L269.9 158.9L270.2 159.1L270.5 159.4L270.8 159.7L271.1 160.7L271.4 160.5L271.7 160.4L272.0 162.3L272.3 161.2L272.6 160.9L272.9 162.2L273.2 162.2L273.5 161.0L273.8 160.7L274.1 161.1L274.4 162.1L274.7 161.5L275.0 161.2L275.3 161.7L275.6 162.1L275.9 161.1L276.2 161.2L276.5 161.2L276.8 162.8L277.1 162.9L277.4 162.3L277.7 161.8L278.0 161.8L278.3 160.8L278.6 161.5L278.9 160.9L279.2 160.8L279.5 161.1L279.8 161.4L280.1 161.9L280.4 162.0L280.7 161.5L281.0 160.9L281.3 161.3L281.6 161.0L281.9 161.0L282.2 159.5L282.5 158.3L282.8 159.3L283.1 160.6L283.4 160.1L283.7 160.1L284.0 160.9L284.3 161.2L284.6 161.3L284.9 161.1L285.2 161.4L285.5 161.6L285.8 161.2L286.1 161.0L286.4 161.7L286.7 162.2L287.0 162.2L287.3 162.1L287.6 162.3L287.9 163.1L288.2 162.2L288.5 162.5L288.8 162.8L289.1 162.0L289.4 161.9L289.7 162.4L290.0 162.6L290.3 161.9L290.6 161.7L290.9 161.3L291.2 160.6L291.5 161.2L291.8 160.3L292.1 159.3L292.4 159.5L292.7 158.8L293.0 159.2L293.3 160.0L293.6 160.2L293.9 161.1L294.2 160.5L294.5 161.3L294.8 161.9L295.1 162.4L295.4 162.3L295.7 161.9L296.0 161.8L296.3 161.8L296.6 162.2L296.9 161.6L297.2 161.9L297.5 161.8L297.8 161.8L298.1 161.8L298.4 162.6L298.7 161.6L299.0 161.7L299.3 161.7L299.6 161.8L299.9 161.6L300.2 161.4L300.5 161.0L300.8 159.6L301.1 159.3L301.4 158.4L301.7 158.1L302.0 157.0L302.3 156.7L302.6 157.4L302.9 158.6L303.2 159.0L303.5 159.6L303.8 160.5L304.1 159.9L304.4 159.7L304.7 160.7L305.0 161.3L305.3 162.3L305.6 162.6L305.9 161.5L306.2 163.0L306.5 162.9L306.8 162.4L307.1 162.4L307.4 163.1L307.7 162.1L308.0 161.7L308.3 161.8L308.6 161.3L308.9 162.0L309.2 162.0L309.5 162.1L309.8 162.1L310.1 161.6L310.4 162.4L310.7 161.7L311.0 162.1L311.3 161.3L311.6 161.9L311.9 161.6L312.2 161.9L312.5 161.5L312.8 160.7L313.1 161.2L313.4 162.0L313.7 162.2L314.0 161.1L314.3 160.7L314.6 161.3L314.9 161.7L315.2 161.6L315.5 161.6L315.8 162.4L316.1 162.6L316.4 162.4L316.7 161.6L317.0 161.9L317.3 161.7L317.6 161.3L317.9 162.2L318.2 162.0L318.5 161.8L318.8 162.6L319.1 162.5L319.4 162.4L319.7 162.5L320.0 162.0L320.3 160.9L320.6 161.0L320.9 161.3L321.2 160.3L321.5 160.1L321.8 160.1L322.1 160.3L322.4 160.2L322.7 160.0L323.0 159.8L323.3 160.6L323.6 160.9L323.9 161.0L324.2 161.9L324.5 161.7L324.8 161.4L325.1 162.2L325.4 161.8L325.7 161.9L326.0 161.2L326.3 161.6L326.6 161.3L326.9 161.1L327.2 161.0L327.5 162.7L327.8 162.0L328.1 161.9L328.4 162.2L328.7 161.6L329.0 161.4L329.3 160.5L329.6 160.8L329.9 160.4L330.2 160.5L330.5 160.0L330.8 159.0L331.1 158.7L331.4 159.3L331.7 160.4L332.0 160.7L332.3 160.7L332.6 159.7L332.9 159.5L333.2 160.6L333.5 160.9L333.8 160.9L334.1 161.2L334.4 160.7L334.7 160.0L335.0 159.9L335.3 160.1L335.6 160.0L335.9 160.0L336.2 160.9L336.5 160.1L336.8 160.2L337.1 160.1L337.4 160.7L337.7 161.4L338.0 161.7L338.3 161.6L338.6 161.9L338.9 161.7L339.2 160.6L339.5 160.4L339.8 162.8L340.1 162.6L340.4 161.9L340.7 161.0L341.0 161.4L341.3 162.3L341.6 160.8L341.9 161.6L342.2 162.4L342.5 162.2L342.8 162.3L343.1 162.1L343.4 162.8L343.7 161.2L344.0 160.6L344.3 161.1L344.6 161.3L344.9 160.5L345.2 160.4L345.5 159.5L345.8 159.4L346.1 160.9L346.4 161.7L346.7 161.8L347.0 161.1L347.3 160.7L347.6 160.9L347.9 161.4L348.2 161.9L348.5 161.6L348.8 160.6L349.1 161.0L349.4 160.8L349.7 160.6L350.0 160.5L350.3 160.6L350.6 161.1L350.9 161.2L351.2 161.4L351.5 161.3L351.8 161.9L352.1 161.6L352.4 161.0L352.7 162.0L353.0 162.1L353.3 162.5L353.6 162.1L353.9 162.0L354.2 162.1L354.5 161.9L354.8 161.5L355.1 161.0L355.4 162.1L355.7 160.7L356.0 160.8L356.3 161.0L356.6 160.6L356.9 160.4L357.2 160.4L357.5 160.6L357.8 160.7L358.1 161.8L358.4 160.7L358.7 161.1L359.0 161.3L359.3 161.4L359.6 162.1L359.9 162.6L360.2 161.8L360.5 161.8L360.8 162.5L361.1 162.7L361.4 163.3L361.7 162.9L362.0 162.4L362.3 162.1L362.6 162.3L362.9 162.0L363.2 161.5L363.5 162.0L363.8 162.0L364.1 161.9L364.4 162.0L364.7 162.8L365.0 162.4L365.3 162.1L365.6 161.1L365.9 160.6L366.2 160.8L366.5 161.1L366.8 160.9L367.1 161.3L367.4 162.0L367.7 161.8L368.0 161.3L368.3 161.6L368.6 161.7L368.9 161.9L369.2 161.5L369.5 161.9L369.8 162.4L370.1 162.0L370.4 161.4L370.7 161.4L371.0 161.7L371.3 161.7L371.6 161.5L371.9 160.4L372.2 159.3L372.5 159.7L372.8 158.6L373.1 157.7L373.4 157.0L373.7 156.3L374.0 157.0L374.3 158.2L374.6 159.4L374.9 159.5L375.2 158.8L375.5 160.5L375.8 161.6L376.1 162.4L376.4 162.6L376.7 163.4L377.0 163.2L377.3 163.1L377.6 162.7L377.9 161.7L378.2 162.6L378.5 162.6L378.8 162.2L379.1 162.6L379.4 162.6L379.7 162.2L380.0 162.3L380.3 162.3L380.6 162.5L380.9 162.3L381.2 162.5L381.5 161.5L381.8 161.9L382.1 161.6L382.4 162.1L382.7 162.7L383.0 162.5L383.3 162.4L383.6 162.7L383.9 163.1L384.2 162.2L384.5 162.7L384.8 161.8L385.1 162.1L385.4 162.4L385.7 162.1L386.0 162.6L386.3 162.8L386.6 162.0L386.9 162.3L387.2 162.1L387.5 161.5L387.8 162.1L388.1 162.3L388.4 163.0L388.7 162.4L389.0 163.2L389.3 162.7L389.6 163.5L389.9 163.1L390.2 162.9L390.5 163.1L390.8 163.2L391.1 163.5L391.4 163.5L391.7 162.4L392.0 161.6L392.3 161.1L392.6 162.1L392.9 162.9L393.2 162.8L393.5 162.6L393.8 162.3L394.1 162.1L394.4 162.4L394.7 162.5L395.0 161.8L395.3 162.5L395.6 161.9L395.9 162.2L396.2 162.1L396.5 162.1L396.8 161.8L397.1 161.8L397.4 162.1L397.7 162.2L398.0 163.5L398.3 162.4L398.6 162.0L398.9 161.9L399.2 161.5L399.5 161.0L399.8 161.9L400.1 162.2L400.4 161.4L400.7 161.8L401.0 161.4L401.3 161.7L401.6 161.9L401.9 161.9L402.2 161.6L402.5 161.0L402.8 161.3L403.1 160.7L403.4 160.7L403.7 160.6L404.0 159.9L404.3 159.3L404.6 159.8L404.9 159.0L405.2 158.9L405.5 159.0L405.8 159.9L406.1 159.4L406.4 158.7L406.7 160.1L407.0 161.1L407.3 160.9L407.6 159.7L407.9 159.8L408.2 160.1L408.5 160.2L408.8 159.7L409.1 159.4L409.4 160.3L409.7 160.4L410.0 159.8L410.3 160.4L410.6 161.1L410.9 161.3L411.2 161.8L411.5 162.1L411.8 162.1L412.1 161.8L412.4 161.4L412.7 162.5L413.0 163.2L413.3 163.4L413.6 162.5L413.9 162.5L414.2 163.2L414.5 163.3L414.8 162.8L415.1 162.7L415.4 162.2L415.7 162.5L416.0 162.0L416.3 162.2L416.6 162.2L416.9 161.9L417.2 161.1L417.5 161.6L417.8 162.2L418.1 162.0L418.4 161.8L418.7 162.0L419.0 162.1L419.3 161.8L419.6 160.9L419.9 160.9L420.2 160.6L420.5 160.1L420.8 159.8L421.1 160.3L421.4 160.5L421.7 161.8L422.0 161.1L422.3 161.0L422.6 161.4L422.9 162.4L423.2 161.5L423.5 161.7L423.8 161.7L424.1 162.1L424.4 162.4L424.7 162.8L425.0 161.9L425.3 162.5L425.6 163.3L425.9 162.5L426.2 162.3L426.5 161.9L426.8 161.2L427.1 162.4L427.4 163.2L427.7 162.4L428.0 161.7L428.3 162.6L428.6 162.9L428.9 163.3L429.2 163.2L429.5 162.7L429.8 162.7L430.1 162.0L430.4 163.1L430.7 163.0L431.0 163.4L431.3 163.3L431.6 162.7L431.9 162.5L432.2 162.1L432.5 161.6L432.8 162.5L433.1 162.7L433.4 162.3L433.7 163.0L434.0 162.9L434.3 162.9L434.6 162.2L434.9 161.9L435.2 163.0L435.5 163.1L435.8 162.7L436.1 162.5L436.4 162.6L436.7 162.6L437.0 162.3L437.3 161.8L437.6 162.8L437.9 162.1L438.2 162.4L438.5 162.6L438.8 162.7L439.1 162.1L439.4 163.3L439.7 163.3L440.0 163.3L440.3 163.4L440.6 162.2L440.9 161.2L441.2 162.7L441.5 163.6L441.8 163.4L442.1 162.6L442.4 162.7L442.7 162.7L443.0 161.8L443.3 162.2L443.6 162.5L443.9 163.4L444.2 162.7L444.5 163.4L444.8 162.7L445.1 162.1L445.4 163.5L445.7 162.5L446.0 163.0L446.3 163.5L446.6 162.4L446.9 162.0L447.2 162.9L447.5 162.5L447.8 161.7L448.1 161.7L448.4 162.1L448.7 162.6L449.0 162.1L449.3 162.3L449.6 162.7L449.9 162.4L450.2 162.2L450.5 161.5L450.8 160.1L451.1 160.8L451.4 160.3L451.7 159.6L452.0 158.8L452.3 158.3L452.6 158.5L452.9 159.0L453.2 158.7L453.5 159.0L453.8 159.5L454.1 160.4L454.4 160.4L454.7 160.8L455.0 161.7L455.3 161.4L455.6 161.7L455.9 161.4L456.2 162.0L456.5 162.2L456.8 162.3L457.1 162.0L457.4 161.9L457.7 162.2L458.0 162.4L458.3 163.2L458.6 163.1L458.9 162.2L459.2 162.8L459.5 162.6L459.8 162.9L460.1 162.4L460.4 162.1L460.7 163.2L461.0 163.0L461.3 162.1L461.6 161.7L461.9 162.2L462.2 162.2L462.5 162.6L462.8 163.3L463.1 163.6L463.4 163.0L463.7 163.6L464.0 163.5L464.3 162.6L464.6 162.1L464.9 163.2L465.2 163.5L465.5 164.3L465.8 163.9L466.1 163.6L466.4 163.7L466.7 162.6L467.0 162.9L467.3 163.0L467.6 163.8L467.9 163.0L468.2 161.6L468.5 163.2L468.8 162.7L469.1 163.1L469.4 162.8L469.7 163.0L470.0 163.3L470.3 163.0L470.6 162.6L470.9 163.5L471.2 163.2L471.5 163.0L471.8 163.2L472.1 162.9L472.4 163.8L472.7 163.2L473.0 163.1L473.3 163.0L473.6 162.3L473.9 162.1L474.2 162.8L474.5 163.0L474.8 163.4L475.1 162.8L475.4 162.1L475.7 162.6L476.0 162.8L476.3 162.7L476.6 162.1L476.9 161.4L477.2 162.1L477.5 161.4L477.8 161.6L478.1 160.9L478.4 161.7L478.7 161.5L479.0 162.4L479.3 163.0L479.6 162.7L479.9 161.7L480.2 161.7L480.5 162.0L480.8 162.8L481.1 162.9L481.4 162.9L481.7 163.0L482.0 163.2L482.3 163.4L482.6 163.8L482.9 163.1L483.2 162.8L483.5 161.9L483.8 162.0L484.1 162.4L484.4 162.3L484.7 163.1L485.0 163.5L485.3 162.8L485.6 162.7L485.9 162.7L486.2 163.0L486.5 162.8L486.8 163.2L487.1 163.2L487.4 163.3L487.7 163.4L488.0 163.1L488.3 163.3L488.6 163.9L488.9 163.3L489.2 163.4L489.5 163.1L489.8 162.8L490.1 162.7L490.4 162.6L490.7 162.9L491.0 162.7L491.3 162.9L491.6 163.6L491.9 163.2L492.2 163.6L492.5 163.4L492.8 163.4L493.1 162.8L493.4 163.3L493.7 164.4L494.0 163.8L494.3 163.6L494.6 163.3L494.9 163.3L495.2 162.4L495.5 162.5L495.8 163.2L496.1 163.4L496.4 162.8L496.7 162.8L497.0 162.7L497.3 162.6L497.6 162.1L497.9 161.9L498.2 162.3L498.5 161.6L498.8 161.6L499.1 161.6L499.4 161.4L499.7 161.6L500.0 161.2L500.3 160.9L500.6 160.3L500.9 160.4L501.2 161.0L501.5 161.2L501.8 161.1L502.1 161.6L502.4 161.9L502.7 162.3L503.0 163.0L503.3 162.5L503.6 162.8L503.9 162.9L504.2 162.6L504.5 162.3L504.8 163.1L505.1 163.1L505.4 163.0L505.7 163.0L506.0 162.9L506.3 162.6L506.6 162.9L506.9 162.2L507.2 162.7L507.5 162.3L507.8 162.8L508.1 163.3L508.4 163.0L508.7 162.9L509.0 163.2L509.3 163.0L509.6 162.8L509.9 163.0L510.2 163.9L510.5 163.6L510.8 163.3L511.1 162.6L511.4 163.1L511.7 162.6L512.0 163.1L512.3 162.8L512.6 163.8L512.9 162.6L513.2 163.6L513.5 163.5L513.8 162.3L514.1 163.0L514.4 163.9L514.7 163.7L515.0 162.4L515.3 162.6L515.6 162.4L515.9 162.4L516.2 162.9L516.5 164.0L516.8 163.4L517.1 163.0L517.4 163.0L517.7 163.5L518.0 163.5L518.3 162.9L518.6 163.7L518.9 162.7L519.2 162.9L519.5 163.5L519.8 164.0L520.1 163.2L520.4 163.4L520.7 163.9L521.0 163.7L521.3 163.9L521.6 163.8L521.9 163.5L522.2 163.6L522.5 163.7L522.8 163.4L523.1 163.7L523.4 162.3L523.7 162.7L524.0 163.8L524.3 163.5L524.6 162.9L524.9 163.4L525.2 163.7L525.5 163.1L525.8 163.5L526.1 163.2L526.4 163.1L526.7 163.3L527.0 163.6L527.3 162.7L527.6 163.0L527.9 163.4L528.2 162.5L528.5 162.4L528.8 163.3L529.1 163.2L529.4 163.1L529.7 163.2L530.0 163.0L530.3 164.4L530.6 163.0L530.9 162.7L531.2 162.4L531.5 163.0L531.8 163.9L532.1 163.4L532.4 163.5L532.7 163.2L533.0 164.1L533.3 163.4L533.6 162.7L533.9 163.4L534.2 163.2L534.5 163.5L534.8 163.4L535.1 163.4L535.4 163.2L535.7 162.6L536.0 162.5L536.3 163.5L536.6 163.3"/>
<path d="M36.8 170.6L37.1 184.2L37.4 196.4L37.7 200.4L38.0 201.6L38.3 200.8L38.6 201.0L38.9 201.0L39.2 201.8L39.5 202.5L39.8 202.2L40.1 202.2L40.4 201.3L40.7 202.0L41.0 202.0L41.3 203.3L41.6 203.1L41.9 203.0L42.2 202.6L42.5 202.9L42.8 202.9L43.1 202.4L43.4 202.2L43.7 202.4L44.0 202.2L44.3 202.2L44.6 202.4L44.9 202.4L45.2 202.9L45.5 202.1L45.8 203.0L46.1 202.5L46.4 202.3L46.7 202.1L47.0 202.6L47.3 202.8L47.6 202.9L47.9 202.7L48.2 203.2L48.5 204.0L48.8 203.4L49.1 202.9L49.4 203.5L49.7 203.2L50.0 203.5L50.3 203.5L50.6 202.8L50.9 202.1L51.2 202.9L51.5 203.5L51.8 203.2L52.1 203.6L52.4 203.8L52.7 203.3L53.0 204.2L53.3 204.5L53.6 204.3L53.9 204.3L54.2 204.4L54.5 204.8L54.8 203.9L55.1 203.7L55.4 203.8L55.7 203.0L56.0 202.6L56.3 203.1L56.6 203.8L56.9 203.8L57.2 202.8L57.5 202.6L57.8 203.4L58.1 203.7L58.4 203.8L58.7 204.3L59.0 204.6L59.3 204.2L59.6 204.1L59.9 203.3L60.2 203.2L60.5 204.0L60.8 204.4L61.1 204.5L61.4 204.4L61.7 204.5L62.0 204.2L62.3 203.0L62.6 203.3L62.9 203.9L63.2 203.6L63.5 202.3L63.8 202.4L64.1 201.0L64.4 200.5L64.7 201.3L65.0 202.4L65.3 202.4L65.6 203.9L65.9 203.9L66.2 203.6L66.5 203.6L66.8 202.9L67.1 203.6L67.4 204.2L67.7 203.9L68.0 204.0L68.3 204.2L68.6 204.4L68.9 204.9L69.2 204.4L69.5 204.3L69.8 204.9L70.1 205.5L70.4 204.5L70.7 204.5L71.0 203.8L71.3 205.1L71.6 205.1L71.9 205.2L72.2 204.5L72.5 204.0L72.8 204.9L73.1 204.9L73.4 203.9L73.7 203.5L74.0 204.2L74.3 204.1L74.6 204.6L74.9 202.9L75.2 202.8L75.5 203.2L75.8 203.0L76.1 203.8L76.4 205.2L76.7 204.6L77.0 204.1L77.3 204.0L77.6 204.9L77.9 205.1L78.2 204.9L78.5 204.6L78.8 204.9L79.1 204.8L79.4 204.4L79.7 204.7L80.0 203.4L80.3 203.6L80.6 204.2L80.9 204.1L81.2 203.5L81.5 203.9L81.8 203.5L82.1 201.9L82.4 200.0L82.7 198.4L83.0 197.2L83.3 197.3L83.6 199.7L83.9 202.1L84.2 202.5L84.5 203.7L84.8 204.0L85.1 203.9L85.4 204.0L85.7 204.7L86.0 205.0L86.3 204.9L86.6 204.1L86.9 204.6L87.2 205.1L87.5 205.4L87.8 205.2L88.1 205.0L88.4 204.7L88.7 203.5L89.0 201.6L89.3 200.6L89.6 199.6L89.9 199.3L90.2 201.1L90.5 203.9L90.8 203.4L91.1 203.2L91.4 204.5L91.7 205.8L92.0 205.3L92.3 205.4L92.6 205.1L92.9 205.4L93.2 206.1L93.5 205.9L93.8 205.5L94.1 205.9L94.4 206.0L94.7 205.4L95.0 205.5L95.3 205.4L95.6 205.0L95.9 205.6L96.2 205.0L96.5 204.2L96.8 203.2L97.1 202.7L97.4 202.4L97.7 199.3L98.0 197.2L98.3 195.2L98.6 196.1L98.9 198.3L99.2 200.2L99.5 202.3L99.8 203.9L100.1 204.7L100.4 205.0L100.7 205.2L101.0 205.9L101.3 206.4L101.6 206.0L101.9 205.4L102.2 205.9L102.5 206.0L102.8 206.3L103.1 206.9L103.4 206.0L103.7 205.8L104.0 205.5L104.3 205.7L104.6 205.9L104.9 206.9L105.2 206.4L105.5 206.1L105.8 206.9L106.1 205.8L106.4 206.6L106.7 206.9L107.0 206.6L107.3 206.2L107.6 206.1L107.9 206.2L108.2 206.4L108.5 205.1L108.8 205.8L109.1 206.3L109.4 205.9L109.7 205.3L110.0 206.0L110.3 206.1L110.6 206.9L110.9 207.3L111.2 206.5L111.5 205.5L111.8 206.1L112.1 206.1L112.4 207.0L112.7 207.6L113.0 207.2L113.3 207.9L113.6 207.7L113.9 207.1L114.2 206.3L114.5 206.5L114.8 206.1L115.1 207.2L115.4 207.1L115.7 207.6L116.0 206.9L116.3 205.9L116.6 207.1L116.9 207.6L117.2 207.7L117.5 206.5L117.8 206.3L118.1 206.7L118.4 206.2L118.7 205.9L119.0 206.4L119.3 207.9L119.6 206.5L119.9 205.8L120.2 205.8L120.5 206.0L120.8 206.5L121.1 206.4L121.4 206.4L121.7 206.3L122.0 206.5L122.3 206.2L122.6 206.2L122.9 207.8L123.2 207.2L123.5 207.6L123.8 207.1L124.1 207.1L124.4 207.0L124.7 206.5L125.0 207.1L125.3 207.6L125.6 207.8L125.9 207.8L126.2 208.0L126.5 207.6L126.8 207.2L127.1 206.3L127.4 207.1L127.7 208.2L128.0 207.8L128.3 207.9L128.6 207.4L128.9 207.4L129.2 208.6L129.5 208.1L129.8 208.4L130.1 208.0L130.4 207.2L130.7 206.4L131.0 207.2L131.3 206.6L131.6 206.4L131.9 208.1L132.2 208.3L132.5 208.1L132.8 207.8L133.1 207.8L133.4 208.0L133.7 207.9L134.0 207.9L134.3 207.9L134.6 206.7L134.9 207.9L135.2 207.7L135.5 208.4L135.8 208.5L136.1 207.7L136.4 208.3L136.7 208.3L137.0 207.6L137.3 207.6L137.6 207.7L137.9 206.7L138.2 207.5L138.5 208.0L138.8 207.6L139.1 207.1L139.4 207.8L139.7 208.9L140.0 208.9L140.3 208.0L140.6 207.6L140.9 208.0L141.2 208.0L141.5 207.7L141.8 207.9L142.1 208.5L142.4 208.4L142.7 207.1L143.0 208.4L143.3 208.5L143.6 208.8L143.9 208.4L144.2 208.6L144.5 208.8L144.8 207.1L145.1 208.8L145.4 208.4L145.7 207.1L146.0 206.7L146.3 208.0L146.6 207.9L146.9 208.7L147.2 208.5L147.5 208.4L147.8 208.8L148.1 208.6L148.4 208.8L148.7 208.8L149.0 208.6L149.3 208.8L149.6 208.6L149.9 207.6L150.2 207.9L150.5 208.1L150.8 207.8L151.1 207.2L151.4 207.7L151.7 208.3L152.0 208.4L152.3 208.8L152.6 207.8L152.9 207.6L153.2 207.5L153.5 207.5L153.8 207.1L154.1 206.5L154.4 207.3L154.7 207.6L155.0 207.0L155.3 205.4L155.6 205.1L155.9 205.3L156.2 203.8L156.5 203.1L156.8 202.6L157.1 203.0L157.4 203.6L157.7 204.7L158.0 204.7L158.3 205.0L158.6 204.9L158.9 205.7L159.2 206.1L159.5 206.5L159.8 206.6L160.1 207.7L160.4 207.0L160.7 207.3L161.0 206.6L161.3 207.2L161.6 207.2L161.9 205.4L162.2 204.8L162.5 203.6L162.8 203.0L163.1 202.8L163.4 203.0L163.7 204.2L164.0 205.0L164.3 205.7L164.6 206.4L164.9 207.7L165.2 207.5L165.5 208.2L165.8 208.2L166.1 207.7L166.4 208.4L166.7 207.9L167.0 208.5L167.3 208.9L167.6 207.9L167.9 207.5L168.2 207.9L168.5 209.3L168.8 208.1L169.1 207.6L169.4 208.4L169.7 208.1L170.0 207.8L170.3 207.1L170.6 206.3L170.9 206.5L171.2 206.1L171.5 205.3L171.8 205.2L172.1 205.5L172.4 206.6L172.7 207.2L173.0 207.3L173.3 207.0L173.6 206.9L173.9 207.7L174.2 208.0L174.5 208.0L174.8 207.1L175.1 206.3L175.4 205.3L175.7 203.4L176.0 202.0L176.3 201.6L176.6 201.1L176.9 202.8L177.2 204.9L177.5 206.0L177.8 206.8L178.1 206.8L178.4 207.5L178.7 207.8L179.0 208.3L179.3 208.4L179.6 208.4L179.9 209.3L180.2 208.7L180.5 208.1L180.8 207.9L181.1 208.1L181.4 208.2L181.7 209.2L182.0 208.8L182.3 208.2L182.6 207.8L182.9 207.7L183.2 208.2L183.5 209.1L183.8 208.9L184.1 208.4L184.4 208.1L184.7 207.4L185.0 208.4L185.3 208.4L185.6 208.9L185.9 208.2L186.2 207.9L186.5 208.1L186.8 207.9L187.1 208.7L187.4 208.3L187.7 208.1L188.0 208.0L188.3 207.6L188.6 207.7L188.9 207.6L189.2 207.9L189.5 206.8L189.8 205.9L190.1 204.3L190.4 202.1L190.7 199.1L191.0 195.6L191.3 190.8L191.6 188.1L191.9 188.0L192.2 191.0L192.5 194.6L192.8 199.4L193.1 202.1L193.4 201.6L193.7 201.1L194.0 198.3L194.3 194.1L194.6 190.8L194.9 187.8L195.2 188.8L195.5 192.8L195.8 196.4L196.1 199.6L196.4 203.3L196.7 204.3L197.0 205.7L197.3 206.4L197.6 206.8L197.9 206.7L198.2 206.8L198.5 208.4L198.8 207.4L199.1 207.0L199.4 206.6L199.7 207.9L200.0 208.9L200.3 209.3L200.6 209.9L200.9 209.3L201.2 208.5L201.5 208.4L201.8 208.9L202.1 208.3L202.4 208.1L202.7 207.7L203.0 208.3L203.3 209.1L203.6 208.2L203.9 207.8L204.2 206.7L204.5 208.1L204.8 207.9L205.1 207.9L205.4 206.6L205.7 204.7L206.0 202.1L206.3 199.0L206.6 193.7L206.9 189.3L207.2 190.4L207.5 195.0L207.8 200.3L208.1 203.0L208.4 204.4L208.7 205.6L209.0 205.9L209.3 206.7L209.6 205.5L209.9 204.3L210.2 203.6L210.5 201.6L210.8 198.6L211.1 193.9L211.4 187.8L211.7 183.2L212.0 181.0L212.3 182.6L212.6 187.9L212.9 193.5L213.2 197.2L213.5 200.4L213.8 202.7L214.1 203.7L214.4 203.7L214.7 202.2L215.0 201.9L215.3 201.3L215.6 201.3L215.9 200.9L216.2 201.7L216.5 203.0L216.8 205.4L217.1 206.8L217.4 206.6L217.7 207.4L218.0 208.0L218.3 208.1L218.6 207.6L218.9 207.9L219.2 207.4L219.5 206.8L219.8 206.9L220.1 206.2L220.4 204.7L220.7 204.3L221.0 203.7L221.3 201.6L221.6 202.5L221.9 203.8L222.2 204.7L222.5 205.9L222.8 206.7L223.1 207.9L223.4 207.4L223.7 207.6L224.0 207.2L224.3 208.3L224.6 208.4L224.9 207.4L225.2 207.8L225.5 208.6L225.8 208.1L226.1 207.5L226.4 207.1L226.7 208.7L227.0 209.5L227.3 208.6L227.6 208.8L227.9 208.8L228.2 208.6L228.5 208.6L228.8 208.5L229.1 208.4L229.4 210.1L229.7 210.3L230.0 209.2L230.3 209.4L230.6 208.3L230.9 208.4L231.2 208.9L231.5 207.9L231.8 207.7L232.1 208.2L232.4 207.6L232.7 209.1L233.0 208.9L233.3 208.4L233.6 208.3L233.9 207.3L234.2 207.0L234.5 207.4L234.8 206.8L235.1 205.4L235.4 203.8L235.7 202.2L236.0 201.3L236.3 198.8L236.6 198.3L236.9 199.0L237.2 199.8L237.5 201.4L237.8 203.4L238.1 205.9L238.4 207.4L238.7 207.2L239.0 206.6L239.3 207.3L239.6 207.9L239.9 208.0L240.2 208.2L240.5 208.4L240.8 207.4L241.1 208.0L241.4 208.7L241.7 209.0L242.0 208.9L242.3 208.7L242.6 208.5L242.9 208.4L243.2 208.7L243.5 208.6L243.8 208.5L244.1 209.4L244.4 209.5L244.7 208.8L245.0 209.2L245.3 209.4L245.6 209.0L245.9 208.8L246.2 208.7L246.5 207.6L246.8 207.6L247.1 208.5L247.4 208.6L247.7 208.6L248.0 207.5L248.3 207.4L248.6 206.5L248.9 205.0L249.2 201.5L249.5 199.2L249.8 197.9L250.1 197.5L250.4 198.3L250.7 200.5L251.0 202.8L251.3 206.2L251.6 206.7L251.9 207.3L252.2 207.6L252.5 208.3L252.8 208.9L253.1 208.6L253.4 209.0L253.7 210.1L254.0 209.7L254.3 209.2L254.6 208.8L254.9 208.9L255.2 208.7L255.5 209.1L255.8 208.8L256.1 208.7L256.4 208.8L256.7 208.6L257.0 209.5L257.3 210.5L257.6 209.0L257.9 208.4L258.2 209.6L258.5 209.6L258.8 210.4L259.1 209.8L259.4 209.8L259.7 208.9L260.0 208.4L260.3 209.1L260.6 209.6L260.9 208.8L261.2 208.4L261.5 208.8L261.8 209.0L262.1 209.2L262.4 209.6L262.7 210.6L263.0 209.6L263.3 209.0L263.6 208.9L263.9 209.5L264.2 208.8L264.5 210.0L264.8 209.4L265.1 208.6L265.4 209.3L265.7 209.5L266.0 209.8L266.3 208.8L266.6 209.3L266.9 209.5L267.2 209.7L267.5 208.7L267.8 208.9L268.1 210.2L268.4 209.4L268.7 208.3L269.0 208.7L269.3 208.0L269.6 207.6L269.9 207.2L270.2 207.7L270.5 206.8L270.8 206.6L271.1 206.2L271.4 205.4L271.7 206.0L272.0 207.0L272.3 206.5L272.6 207.6L272.9 208.2L273.2 208.9L273.5 209.3L273.8 209.5L274.1 209.3L274.4 209.4L274.7 209.0L275.0 209.2L275.3 209.9L275.6 209.5L275.9 210.2L276.2 210.2L276.5 209.4L276.8 209.8L277.1 209.4L277.4 209.7L277.7 209.4L278.0 209.8L278.3 209.7L278.6 209.5L278.9 210.8L279.2 210.3L279.5 209.1L279.8 209.7L280.1 209.8L280.4 210.8L280.7 210.1L281.0 210.0L281.3 209.9L281.6 210.1L281.9 209.5L282.2 209.3L282.5 209.4L282.8 209.6L283.1 210.1L283.4 209.9L283.7 209.6L284.0 209.5L284.3 209.3L284.6 209.6L284.9 208.8L285.2 209.6L285.5 210.4L285.8 209.6L286.1 209.4L286.4 209.6L286.7 209.1L287.0 209.1L287.3 209.6L287.6 209.2L287.9 210.0L288.2 209.0L288.5 207.9L288.8 206.9L289.1 206.0L289.4 204.5L289.7 205.1L290.0 205.6L290.3 205.8L290.6 206.1L290.9 207.3L291.2 208.1L291.5 208.4L291.8 209.1L292.1 209.7L292.4 209.6L292.7 209.2L293.0 209.4L293.3 209.3L293.6 208.5L293.9 209.0L294.2 208.5L294.5 207.1L294.8 207.0L295.1 208.1L295.4 207.2L295.7 207.0L296.0 206.4L296.3 207.4L296.6 207.5L296.9 207.4L297.2 208.4L297.5 209.6L297.8 210.2L298.1 209.3L298.4 208.5L298.7 208.2L299.0 208.6L299.3 208.4L299.6 207.3L299.9 206.3L300.2 205.8L300.5 204.8L300.8 203.7L301.1 202.3L301.4 202.9L301.7 204.4L302.0 204.7L302.3 206.5L302.6 206.5L302.9 206.9L303.2 207.9L303.5 208.6L303.8 208.6L304.1 209.2L304.4 209.4L304.7 210.3L305.0 209.7L305.3 209.7L305.6 209.0L305.9 209.1L306.2 209.8L306.5 209.6L306.8 209.9L307.1 210.3L307.4 210.3L307.7 209.5L308.0 210.0L308.3 210.5L308.6 209.8L308.9 209.4L309.2 209.9L309.5 211.1L309.8 210.7L310.1 211.1L310.4 210.4L310.7 210.7L311.0 209.6L311.3 210.0L311.6 210.5L311.9 211.3L312.2 210.9L312.5 210.9L312.8 210.1L313.1 210.1L313.4 211.0L313.7 211.2L314.0 211.1L314.3 210.8L314.6 210.1L314.9 211.0L315.2 210.2L315.5 210.2L315.8 209.4L316.1 207.6L316.4 206.8L316.7 206.8L317.0 207.6L317.3 208.4L317.6 208.3L317.9 208.9L318.2 208.3L318.5 208.7L318.8 209.0L319.1 209.5L319.4 209.2L319.7 209.7L320.0 210.0L320.3 209.4L320.6 209.0L320.9 208.8L321.2 208.2L321.5 208.1L321.8 208.6L322.1 207.9L322.4 206.7L322.7 206.9L323.0 207.3L323.3 207.7L323.6 208.0L323.9 208.4L324.2 208.4L324.5 208.7L324.8 209.1L325.1 210.0L325.4 210.4L325.7 210.9L326.0 210.6L326.3 209.5L326.6 209.0L326.9 209.1L327.2 209.5L327.5 210.2L327.8 209.2L328.1 208.9L328.4 209.9L328.7 210.6L329.0 210.8L329.3 211.0L329.6 210.1L329.9 209.7L330.2 209.6L330.5 209.1L330.8 209.4L331.1 210.5L331.4 210.9L331.7 210.3L332.0 209.4L332.3 208.7L332.6 208.3L332.9 207.1L333.2 207.6L333.5 207.3L333.8 206.2L334.1 205.3L334.4 204.0L334.7 204.6L335.0 204.0L335.3 202.2L335.6 203.1L335.9 204.2L336.2 205.2L336.5 204.8L336.8 205.7L337.1 207.2L337.4 207.4L337.7 207.4L338.0 207.8L338.3 208.3L338.6 208.5L338.9 209.4L339.2 209.0L339.5 209.7L339.8 210.2L340.1 210.4L340.4 209.9L340.7 209.8L341.0 209.9L341.3 209.9L341.6 210.2L341.9 209.8L342.2 210.7L342.5 210.8L342.8 208.9L343.1 208.6L343.4 207.7L343.7 208.0L344.0 207.5L344.3 206.5L344.6 205.6L344.9 205.8L345.2 206.6L345.5 206.2L345.8 205.4L346.1 205.0L346.4 205.4L346.7 205.5L347.0 205.7L347.3 206.6L347.6 207.9L347.9 208.4L348.2 208.6L348.5 208.2L348.8 208.5L349.1 209.8L349.4 209.8L349.7 210.4L350.0 209.8L350.3 210.5L350.6 210.4L350.9 210.0L351.2 210.2L351.5 211.4L351.8 211.0L352.1 210.4L352.4 210.3L352.7 209.8L353.0 211.3L353.3 211.3L353.6 210.5L353.9 210.4L354.2 209.2L354.5 210.7L354.8 210.9L355.1 210.8L355.4 211.0L355.7 210.6L356.0 209.9L356.3 210.0L356.6 210.4L356.9 210.9L357.2 210.4L357.5 210.0L357.8 210.1L358.1 209.7L358.4 210.9L358.7 210.0L359.0 209.0L359.3 209.4L359.6 209.7L359.9 209.6L360.2 210.0L360.5 208.8L360.8 210.0L361.1 209.8L361.4 210.4L361.7 210.8L362.0 209.5L362.3 209.3L362.6 209.8L362.9 209.3L363.2 209.2L363.5 210.5L363.8 211.1L364.1 210.5L364.4 211.2L364.7 212.6L365.0 211.2L365.3 210.5L365.6 210.6L365.9 210.8L366.2 210.6L366.5 211.0L366.8 211.0L367.1 211.2L367.4 210.8L367.7 210.5L368.0 210.0L368.3 209.8L368.6 210.3L368.9 210.5L369.2 210.8L369.5 210.6L369.8 210.7L370.1 211.8L370.4 211.2L370.7 211.2L371.0 210.3L371.3 211.2L371.6 211.4L371.9 210.9L372.2 210.3L372.5 211.0L372.8 210.0L373.1 209.3L373.4 209.2L373.7 209.9L374.0 209.8L374.3 210.1L374.6 210.0L374.9 209.9L375.2 209.1L375.5 208.5L375.8 208.2L376.1 207.7L376.4 207.7L376.7 208.2L377.0 208.9L377.3 208.9L377.6 209.6L377.9 210.1L378.2 208.8L378.5 209.4L378.8 209.7L379.1 210.2L379.4 209.6L379.7 210.3L380.0 211.6L380.3 210.1L380.6 210.5L380.9 210.7L381.2 210.4L381.5 210.1L381.8 210.9L382.1 209.7L382.4 209.9L382.7 210.4L383.0 210.5L383.3 211.2L383.6 210.9L383.9 211.7L384.2 211.1L384.5 211.6L384.8 211.1L385.1 210.6L385.4 210.6L385.7 211.1L386.0 210.5L386.3 210.5L386.6 210.0L386.9 209.6L387.2 210.8L387.5 210.9L387.8 210.2L388.1 210.8L388.4 210.4L388.7 209.5L389.0 210.0L389.3 211.0L389.6 211.3L389.9 211.3L390.2 212.2L390.5 211.0L390.8 210.1L391.1 209.9L391.4 211.2L391.7 210.5L392.0 210.2L392.3 210.0L392.6 209.9L392.9 210.2L393.2 210.7L393.5 210.7L393.8 210.6L394.1 210.6L394.4 209.7L394.7 209.2L395.0 209.3L395.3 208.4L395.6 209.5L395.9 209.4L396.2 209.0L396.5 208.1L396.8 208.1L397.1 208.3L397.4 207.9L397.7 207.9L398.0 208.6L398.3 209.0L398.6 209.0L398.9 210.1L399.2 210.8L399.5 210.1L399.8 209.6L400.1 209.7L400.4 210.5L400.7 209.9L401.0 209.6L401.3 209.0L401.6 208.2L401.9 208.3L402.2 206.7L402.5 205.5L402.8 203.9L403.1 205.1L403.4 204.6L403.7 204.4L404.0 204.7L404.3 205.5L404.6 206.0L404.9 207.5L405.2 207.6L405.5 208.3L405.8 208.5L406.1 208.8L406.4 207.5L406.7 206.7L407.0 206.1L407.3 205.1L407.6 205.1L407.9 205.9L408.2 206.8L408.5 207.2L408.8 207.3L409.1 208.1L409.4 207.5L409.7 207.1L410.0 208.4L410.3 207.7L410.6 207.0L410.9 206.4L411.2 206.9L411.5 207.9L411.8 207.6L412.1 208.5L412.4 208.0L412.7 208.6L413.0 208.4L413.3 208.4L413.6 208.7L413.9 208.9L414.2 208.7L414.5 208.9L414.8 210.0L415.1 210.6L415.4 210.2L415.7 209.8L416.0 209.5L416.3 210.2L416.6 209.9L416.9 208.5L417.2 208.4L417.5 207.7L417.8 206.8L418.1 207.6L418.4 207.2L418.7 206.5L419.0 206.9L419.3 206.4L419.6 207.3L419.9 208.4L420.2 208.4L420.5 208.9L420.8 209.0L421.1 210.1L421.4 210.6L421.7 209.8L422.0 209.9L422.3 210.5L422.6 211.3L422.9 210.5L423.2 210.2L423.5 210.7L423.8 211.2L424.1 210.1L424.4 210.7L424.7 211.5L425.0 211.0L425.3 210.8L425.6 211.2L425.9 210.6L426.2 211.9L426.5 211.4L426.8 210.8L427.1 210.9L427.4 210.9L427.7 210.6L428.0 210.2L428.3 210.5L428.6 210.2L428.9 211.4L429.2 210.4L429.5 210.3L429.8 210.5L430.1 211.2L430.4 211.1L430.7 211.6L431.0 210.9L431.3 211.0L431.6 210.9L431.9 210.9L432.2 211.7L432.5 211.9L432.8 211.7L433.1 210.4L433.4 210.9L433.7 210.3L434.0 210.1L434.3 209.8L434.6 210.4L434.9 211.4L435.2 212.0L435.5 212.0L435.8 210.6L436.1 210.6L436.4 211.1L436.7 211.1L437.0 210.9L437.3 210.1L437.6 210.8L437.9 211.3L438.2 211.2L438.5 210.9L438.8 210.6L439.1 211.0L439.4 211.9L439.7 211.5L440.0 211.8L440.3 211.8L440.6 210.7L440.9 211.2L441.2 211.4L441.5 211.7L441.8 210.9L442.1 210.7L442.4 210.6L442.7 210.9L443.0 210.8L443.3 210.8L443.6 211.0L443.9 210.6L444.2 210.3L444.5 210.5L444.8 210.5L445.1 211.1L445.4 211.5L445.7 210.5L446.0 209.5L446.3 210.7L446.6 210.6L446.9 210.1L447.2 210.6L447.5 211.3L447.8 209.8L448.1 209.6L448.4 209.8L448.7 208.5L449.0 209.5L449.3 210.4L449.6 210.1L449.9 209.6L450.2 209.0L450.5 209.0L450.8 209.9L451.1 208.7L451.4 208.3L451.7 206.8L452.0 206.9L452.3 206.7L452.6 206.0L452.9 204.7L453.2 205.3L453.5 206.3L453.8 206.0L454.1 205.5L454.4 206.2L454.7 205.5L455.0 206.8L455.3 207.2L455.6 206.9L455.9 206.8L456.2 206.8L456.5 207.9L456.8 209.0L457.1 208.8L457.4 208.4L457.7 208.3L458.0 207.6L458.3 207.5L458.6 205.9L458.9 206.8L459.2 207.2L459.5 207.7L459.8 208.1L460.1 208.7L460.4 208.7L460.7 209.6L461.0 209.6L461.3 210.2L461.6 210.3L461.9 210.7L462.2 210.6L462.5 210.2L462.8 210.5L463.1 210.0L463.4 210.6L463.7 210.9L464.0 210.7L464.3 210.8L464.6 211.5L464.9 211.8L465.2 211.7L465.5 210.7L465.8 210.7L466.1 211.4L466.4 211.3L466.7 210.4L467.0 212.0L467.3 211.7L467.6 210.6L467.9 211.5L468.2 210.9L468.5 210.8L468.8 210.4L469.1 210.5L469.4 210.8L469.7 211.0L470.0 210.5L470.3 210.9L470.6 210.7L470.9 210.7L471.2 210.5L471.5 210.9L471.8 211.7L472.1 210.3L472.4 210.3L472.7 210.9L473.0 210.8L473.3 210.6L473.6 211.1L473.9 210.6L474.2 211.1L474.5 211.7L474.8 211.5L475.1 211.1L475.4 211.2L475.7 211.3L476.0 211.4L476.3 210.9L476.6 211.8L476.9 211.9L477.2 212.3L477.5 212.0L477.8 211.5L478.1 209.7L478.4 210.8L478.7 212.2L479.0 211.6L479.3 211.1L479.6 211.5L479.9 211.4L480.2 211.3L480.5 210.9L480.8 211.6L481.1 212.1L481.4 211.6L481.7 211.4L482.0 211.0L482.3 211.4L482.6 210.9L482.9 210.4L483.2 210.8L483.5 211.1L483.8 211.6L484.1 211.8L484.4 211.2L484.7 211.1L485.0 211.4L485.3 210.8L485.6 210.9L485.9 211.0L486.2 211.0L486.5 211.1L486.8 212.1L487.1 211.9L487.4 211.1L487.7 210.4L488.0 210.9L488.3 211.3L488.6 210.6L488.9 212.3L489.2 211.5L489.5 211.3L489.8 211.4L490.1 210.6L490.4 211.1L490.7 211.3L491.0 211.5L491.3 210.8L491.6 211.6L491.9 211.9L492.2 211.4L492.5 210.9L492.8 210.5L493.1 210.1L493.4 210.7L493.7 211.6L494.0 212.1L494.3 212.0L494.6 211.9L494.9 211.0L495.2 210.7L495.5 210.2L495.8 210.5L496.1 210.4L496.4 210.9L496.7 211.4L497.0 211.0L497.3 210.9L497.6 211.4L497.9 211.9L498.2 211.4L498.5 210.1L498.8 211.3L499.1 210.2L499.4 209.3L499.7 209.6L500.0 209.6L500.3 207.8L500.6 208.8L500.9 208.1L501.2 207.4L501.5 206.0L501.8 205.8L502.1 205.7L502.4 206.9L502.7 206.6L503.0 207.4L503.3 207.4L503.6 207.5L503.9 209.1L504.2 209.9L504.5 210.0L504.8 209.1L505.1 209.2L505.4 209.4L505.7 209.1L506.0 209.1L506.3 209.7L506.6 208.5L506.9 208.6L507.2 208.3L507.5 209.1L507.8 208.6L508.1 208.5L508.4 209.5L508.7 209.6L509.0 209.6L509.3 209.8L509.6 209.9L509.9 210.6L510.2 211.0L510.5 211.5L510.8 210.7L511.1 211.5L511.4 211.1L511.7 210.3L512.0 211.3L512.3 210.1L512.6 210.6L512.9 209.8L513.2 210.5L513.5 210.3L513.8 210.0L514.1 209.1L514.4 209.5L514.7 210.4L515.0 210.1L515.3 209.5L515.6 209.2L515.9 209.1L516.2 210.0L516.5 209.7L516.8 210.0L517.1 208.9L517.4 209.2L517.7 210.6L518.0 210.1L518.3 210.4L518.6 211.1L518.9 211.5L519.2 211.5L519.5 211.6L519.8 212.1L520.1 211.6L520.4 211.8L520.7 211.4L521.0 211.6L521.3 212.3L521.6 211.2L521.9 210.0L522.2 211.2L522.5 211.7L522.8 212.4L523.1 211.3L523.4 210.8L523.7 211.6L524.0 212.4L524.3 211.6L524.6 212.1L524.9 211.9L525.2 211.8L525.5 211.1L525.8 211.3L526.1 211.0L526.4 211.3L526.7 211.2L527.0 211.9L527.3 211.3L527.6 211.0L527.9 210.1L528.2 211.0L528.5 212.6L528.8 211.4L529.1 210.6L529.4 211.2L529.7 211.3L530.0 211.1L530.3 211.2L530.6 211.3L530.9 211.8L531.2 211.0L531.5 211.6L531.8 211.8L532.1 211.4L532.4 212.6L532.7 211.8L533.0 211.4L533.3 211.3L533.6 211.7L533.9 210.8L534.2 211.9L534.5 212.8L534.8 212.0L535.1 211.9L535.4 211.2L535.7 211.8L536.0 211.2L536.3 211.2L536.6 211.5"/>
<path d="M36.8 255.3L37.1 253.3L37.4 254.8L37.7 255.0L38.0 255.5L38.3 255.3L38.6 255.8L38.9 254.9L39.2 254.6L39.5 255.1L39.8 255.1L40.1 254.7L40.4 254.8L40.7 255.3L41.0 255.3L41.3 254.7L41.6 254.4L41.9 254.1L42.2 255.7L42.5 255.2L42.8 255.8L43.1 255.6L43.4 256.3L43.7 256.2L44.0 255.6L44.3 255.8L44.6 254.9L44.9 255.5L45.2 254.5L45.5 255.3L45.8 255.8L46.1 255.4L46.4 254.9L46.7 254.7L47.0 255.1L47.3 255.9L47.6 255.9L47.9 255.1L48.2 254.7L48.5 255.4L48.8 254.5L49.1 254.8L49.4 255.0L49.7 255.7L50.0 255.7L50.3 255.7L50.6 255.6L50.9 255.2L51.2 255.9L51.5 256.3L51.8 255.7L52.1 255.9L52.4 255.7L52.7 256.2L53.0 256.2L53.3 256.2L53.6 256.1L53.9 256.6L54.2 255.6L54.5 255.4L54.8 255.4L55.1 255.9L55.4 255.4L55.7 255.4L56.0 256.2L56.3 256.6L56.6 255.9L56.9 254.3L57.2 254.8L57.5 255.0L57.8 255.0L58.1 255.7L58.4 256.8L58.7 255.9L59.0 255.6L59.3 256.3L59.6 256.1L59.9 256.0L60.2 255.6L60.5 256.0L60.8 256.1L61.1 254.8L61.4 255.1L61.7 256.6L62.0 256.6L62.3 255.8L62.6 255.5L62.9 255.8L63.2 255.4L63.5 256.1L63.8 257.1L64.1 256.6L64.4 256.9L64.7 256.3L65.0 256.6L65.3 257.0L65.6 255.7L65.9 256.0L66.2 256.3L66.5 256.7L66.8 257.4L67.1 256.8L67.4 255.6L67.7 256.0L68.0 255.8L68.3 256.1L68.6 257.4L68.9 256.2L69.2 256.4L69.5 256.3L69.8 257.0L70.1 256.9L70.4 256.7L70.7 256.7L71.0 257.1L71.3 256.2L71.6 256.0L71.9 256.1L72.2 257.3L72.5 256.6L72.8 256.0L73.1 256.7L73.4 258.1L73.7 257.1L74.0 257.3L74.3 257.1L74.6 256.7L74.9 256.4L75.2 256.5L75.5 256.3L75.8 255.8L76.1 258.1L76.4 257.7L76.7 257.0L77.0 256.6L77.3 256.4L77.6 257.2L77.9 256.8L78.2 256.8L78.5 256.0L78.8 256.9L79.1 257.5L79.4 256.3L79.7 256.1L80.0 255.2L80.3 254.7L80.6 253.4L80.9 251.4L81.2 250.0L81.5 250.2L81.8 250.9L82.1 252.0L82.4 253.9L82.7 255.0L83.0 255.2L83.3 256.4L83.6 258.3L83.9 257.6L84.2 257.4L84.5 258.4L84.8 256.9L85.1 255.5L85.4 255.7L85.7 256.3L86.0 257.4L86.3 257.7L86.6 256.5L86.9 257.7L87.2 257.0L87.5 257.6L87.8 257.9L88.1 257.9L88.4 257.7L88.7 257.6L89.0 257.1L89.3 257.8L89.6 258.4L89.9 258.7L90.2 259.4L90.5 258.8L90.8 258.5L91.1 258.9L91.4 258.0L91.7 256.9L92.0 256.6L92.3 258.4L92.6 258.5L92.9 258.4L93.2 257.9L93.5 258.3L93.8 259.1L94.1 258.3L94.4 257.4L94.7 257.8L95.0 258.7L95.3 257.3L95.6 256.2L95.9 256.4L96.2 257.2L96.5 258.5L96.8 258.2L97.1 257.6L97.4 257.4L97.7 258.0L98.0 258.1L98.3 257.9L98.6 258.0L98.9 258.1L99.2 259.0L99.5 257.2L99.8 258.0L100.1 257.9L100.4 258.6L100.7 258.4L101.0 258.7L101.3 258.8L101.6 258.8L101.9 258.9L102.2 258.0L102.5 258.9L102.8 258.6L103.1 258.9L103.4 259.6L103.7 259.6L104.0 259.6L104.3 257.5L104.6 258.0L104.9 259.0L105.2 258.1L105.5 258.7L105.8 259.8L106.1 259.3L106.4 258.4L106.7 259.0L107.0 259.2L107.3 258.9L107.6 258.8L107.9 258.7L108.2 258.1L108.5 258.7L108.8 258.4L109.1 259.1L109.4 259.1L109.7 258.6L110.0 259.2L110.3 259.3L110.6 259.1L110.9 259.4L111.2 258.9L111.5 258.9L111.8 259.1L112.1 259.2L112.4 259.5L112.7 257.9L113.0 258.4L113.3 257.9L113.6 258.7L113.9 259.3L114.2 259.3L114.5 259.8L114.8 259.2L115.1 257.6L115.4 258.5L115.7 260.2L116.0 260.4L116.3 259.4L116.6 258.7L116.9 260.1L117.2 258.5L117.5 259.3L117.8 259.4L118.1 259.4L118.4 258.7L118.7 259.2L119.0 259.9L119.3 259.1L119.6 258.6L119.9 259.3L120.2 259.5L120.5 259.4L120.8 259.1L121.1 259.7L121.4 259.4L121.7 258.9L122.0 259.6L122.3 259.7L122.6 259.5L122.9 258.6L123.2 259.1L123.5 260.0L123.8 260.3L124.1 260.1L124.4 260.0L124.7 260.3L125.0 260.7L125.3 261.0L125.6 260.2L125.9 259.7L126.2 259.8L126.5 258.9L126.8 259.7L127.1 259.7L127.4 260.0L127.7 260.3L128.0 259.9L128.3 259.2L128.6 259.6L128.9 259.6L129.2 260.0L129.5 260.2L129.8 259.7L130.1 260.6L130.4 260.9L130.7 260.3L131.0 260.4L131.3 259.4L131.6 259.9L131.9 260.5L132.2 259.3L132.5 259.7L132.8 259.9L133.1 261.0L133.4 261.0L133.7 260.1L134.0 260.0L134.3 259.0L134.6 260.6L134.9 260.9L135.2 260.9L135.5 259.3L135.8 260.3L136.1 260.0L136.4 258.9L136.7 259.8L137.0 260.5L137.3 261.0L137.6 260.7L137.9 260.4L138.2 260.8L138.5 260.5L138.8 260.1L139.1 260.0L139.4 260.6L139.7 261.0L140.0 261.7L140.3 260.8L140.6 261.6L140.9 261.2L141.2 261.3L141.5 260.2L141.8 260.0L142.1 260.5L142.4 261.2L142.7 261.0L143.0 261.2L143.3 261.1L143.6 261.3L143.9 260.8L144.2 260.5L144.5 260.9L144.8 261.0L145.1 261.6L145.4 260.8L145.7 260.6L146.0 260.6L146.3 261.3L146.6 261.3L146.9 260.9L147.2 259.8L147.5 259.6L147.8 260.6L148.1 261.1L148.4 261.2L148.7 259.6L149.0 259.9L149.3 259.3L149.6 259.6L149.9 260.2L150.2 260.7L150.5 259.8L150.8 259.5L151.1 259.7L151.4 260.6L151.7 260.7L152.0 258.5L152.3 258.3L152.6 258.2L152.9 258.5L153.2 257.8L153.5 257.4L153.8 255.6L154.1 255.2L154.4 254.3L154.7 253.5L155.0 253.4L155.3 253.2L155.6 254.8L155.9 254.3L156.2 253.8L156.5 254.7L156.8 256.4L157.1 256.3L157.4 257.3L157.7 258.0L158.0 258.8L158.3 259.0L158.6 258.8L158.9 258.7L159.2 258.5L159.5 259.5L159.8 260.0L160.1 259.9L160.4 260.0L160.7 259.9L161.0 261.4L161.3 260.3L161.6 259.8L161.9 260.1L162.2 260.5L162.5 260.7L162.8 259.4L163.1 260.6L163.4 260.4L163.7 260.6L164.0 261.3L164.3 261.2L164.6 260.4L164.9 260.8L165.2 261.9L165.5 261.7L165.8 261.3L166.1 260.8L166.4 261.1L166.7 260.7L167.0 259.9L167.3 259.5L167.6 260.1L167.9 259.9L168.2 259.8L168.5 258.8L168.8 259.0L169.1 258.0L169.4 258.4L169.7 258.0L170.0 257.4L170.3 257.6L170.6 258.4L170.9 259.0L171.2 259.9L171.5 259.4L171.8 259.2L172.1 260.4L172.4 261.8L172.7 261.7L173.0 260.5L173.3 260.6L173.6 260.9L173.9 260.5L174.2 260.6L174.5 260.6L174.8 260.2L175.1 260.4L175.4 260.6L175.7 260.9L176.0 260.3L176.3 260.8L176.6 260.3L176.9 260.3L177.2 260.7L177.5 263.2L177.8 262.3L178.1 262.0L178.4 261.6L178.7 261.0L179.0 261.0L179.3 261.2L179.6 261.3L179.9 261.5L180.2 261.5L180.5 259.4L180.8 260.4L181.1 261.2L181.4 260.8L181.7 261.0L182.0 261.8L182.3 261.4L182.6 261.9L182.9 261.1L183.2 260.8L183.5 260.0L183.8 259.5L184.1 260.3L184.4 260.7L184.7 260.4L185.0 259.9L185.3 260.8L185.6 260.7L185.9 260.4L186.2 260.2L186.5 261.4L186.8 261.4L187.1 260.5L187.4 260.1L187.7 260.3L188.0 261.1L188.3 261.4L188.6 259.6L188.9 258.5L189.2 257.8L189.5 259.1L189.8 256.9L190.1 256.5L190.4 255.2L190.7 253.6L191.0 250.2L191.3 247.2L191.6 245.2L191.9 242.6L192.2 239.8L192.5 236.0L192.8 234.8L193.1 234.7L193.4 235.4L193.7 238.2L194.0 241.7L194.3 244.2L194.6 246.4L194.9 250.0L195.2 252.7L195.5 254.5L195.8 255.9L196.1 256.0L196.4 257.7L196.7 258.6L197.0 258.6L197.3 258.9L197.6 259.1L197.9 260.2L198.2 259.6L198.5 259.3L198.8 260.0L199.1 260.2L199.4 260.4L199.7 259.7L200.0 259.8L200.3 260.7L200.6 261.7L200.9 260.7L201.2 259.6L201.5 260.2L201.8 259.7L202.1 259.1L202.4 259.6L202.7 259.9L203.0 260.5L203.3 261.1L203.6 261.0L203.9 260.5L204.2 259.8L204.5 259.8L204.8 259.8L205.1 260.2L205.4 259.0L205.7 258.8L206.0 259.6L206.3 258.8L206.6 257.6L206.9 257.2L207.2 256.3L207.5 255.1L207.8 253.7L208.1 251.3L208.4 248.1L208.7 244.4L209.0 240.0L209.3 236.6L209.6 233.1L209.9 228.6L210.2 224.8L210.5 223.2L210.8 223.3L211.1 226.2L211.4 230.7L211.7 234.7L212.0 238.4L212.3 241.7L212.6 244.1L212.9 246.1L213.2 248.4L213.5 249.7L213.8 251.1L214.1 251.4L214.4 251.5L214.7 253.0L215.0 255.0L215.3 254.4L215.6 256.1L215.9 257.0L216.2 257.3L216.5 257.6L216.8 258.6L217.1 259.3L217.4 260.0L217.7 260.2L218.0 260.1L218.3 259.7L218.6 260.1L218.9 259.7L219.2 259.4L219.5 260.1L219.8 259.2L220.1 258.6L220.4 258.7L220.7 257.6L221.0 258.1L221.3 258.3L221.6 257.9L221.9 258.5L222.2 259.9L222.5 260.0L222.8 260.1L223.1 260.1L223.4 259.9L223.7 260.2L224.0 260.4L224.3 260.8L224.6 260.9L224.9 260.8L225.2 261.8L225.5 260.8L225.8 261.4L226.1 261.8L226.4 261.3L226.7 260.9L227.0 261.4L227.3 262.4L227.6 261.8L227.9 261.2L228.2 261.5L228.5 260.9L228.8 260.1L229.1 261.1L229.4 261.8L229.7 261.7L230.0 260.8L230.3 260.1L230.6 261.1L230.9 260.5L231.2 260.6L231.5 260.3L231.8 259.3L232.1 258.0L232.4 256.5L232.7 255.2L233.0 253.7L233.3 251.7L233.6 249.9L233.9 247.1L234.2 246.4L234.5 246.8L234.8 247.4L235.1 248.9L235.4 250.7L235.7 253.7L236.0 255.9L236.3 256.3L236.6 258.2L236.9 258.1L237.2 259.2L237.5 259.0L237.8 260.4L238.1 260.8L238.4 261.1L238.7 261.8L239.0 261.6L239.3 261.2L239.6 260.8L239.9 261.2L240.2 260.9L240.5 261.3L240.8 262.3L241.1 262.2L241.4 261.8L241.7 261.7L242.0 260.8L242.3 261.2L242.6 260.5L242.9 260.9L243.2 261.6L243.5 261.7L243.8 261.8L244.1 261.5L244.4 261.2L244.7 261.2L245.0 261.8L245.3 261.3L245.6 259.6L245.9 259.7L246.2 259.5L246.5 257.6L246.8 256.1L247.1 253.8L247.4 251.5L247.7 250.3L248.0 249.0L248.3 248.7L248.6 249.0L248.9 250.8L249.2 253.4L249.5 255.3L249.8 257.3L250.1 258.0L250.4 259.8L250.7 260.5L251.0 260.8L251.3 261.3L251.6 261.2L251.9 261.2L252.2 261.3L252.5 260.8L252.8 261.5L253.1 261.9L253.4 261.0L253.7 261.9L254.0 261.5L254.3 261.6L254.6 261.9L254.9 262.2L255.2 262.7L255.5 262.3L255.8 262.9L256.1 262.3L256.4 262.4L256.7 262.4L257.0 261.6L257.3 261.4L257.6 262.1L257.9 262.6L258.2 262.7L258.5 262.3L258.8 263.1L259.1 262.2L259.4 261.9L259.7 262.9L260.0 262.9L260.3 262.0L260.6 262.4L260.9 261.7L261.2 262.4L261.5 263.7L261.8 263.4L262.1 262.9L262.4 262.7L262.7 262.0L263.0 262.5L263.3 262.5L263.6 261.8L263.9 262.4L264.2 262.6L264.5 262.5L264.8 262.5L265.1 262.0L265.4 261.5L265.7 261.8L266.0 260.9L266.3 261.4L266.6 262.5L266.9 262.7L267.2 261.4L267.5 259.7L267.8 260.9L268.1 260.2L268.4 259.2L268.7 259.0L269.0 258.3L269.3 257.0L269.6 257.1L269.9 258.3L270.2 257.7L270.5 259.5L270.8 260.4L271.1 261.4L271.4 262.3L271.7 262.6L272.0 262.9L272.3 262.7L272.6 262.6L272.9 262.9L273.2 262.3L273.5 261.9L273.8 262.1L274.1 261.5L274.4 262.2L274.7 263.7L275.0 263.1L275.3 262.5L275.6 262.0L275.9 261.5L276.2 262.0L276.5 262.1L276.8 262.5L277.1 262.7L277.4 262.4L277.7 261.8L278.0 263.3L278.3 263.1L278.6 262.7L278.9 262.5L279.2 263.0L279.5 263.5L279.8 263.0L280.1 261.9L280.4 261.5L280.7 261.2L281.0 262.5L281.3 263.2L281.6 263.4L281.9 263.0L282.2 263.0L282.5 262.2L282.8 262.7L283.1 262.5L283.4 261.9L283.7 261.6L284.0 262.6L284.3 261.3L284.6 262.2L284.9 261.8L285.2 262.0L285.5 261.4L285.8 261.5L286.1 260.5L286.4 259.5L286.7 258.9L287.0 258.0L287.3 258.5L287.6 258.9L287.9 258.6L288.2 258.9L288.5 259.7L288.8 259.3L289.1 260.5L289.4 260.9L289.7 261.1L290.0 261.8L290.3 261.4L290.6 262.0L290.9 262.3L291.2 261.8L291.5 262.3L291.8 262.9L292.1 263.0L292.4 262.3L292.7 263.0L293.0 262.6L293.3 262.6L293.6 262.4L293.9 262.9L294.2 262.3L294.5 262.7L294.8 262.9L295.1 262.9L295.4 262.1L295.7 262.8L296.0 262.7L296.3 263.0L296.6 262.0L296.9 261.5L297.2 261.5L297.5 261.0L297.8 260.4L298.1 258.9L298.4 257.5L298.7 256.9L299.0 256.4L299.3 255.9L299.6 254.7L299.9 253.8L300.2 254.3L300.5 255.5L300.8 257.9L301.1 258.4L301.4 258.5L301.7 258.6L302.0 260.0L302.3 260.9L302.6 262.0L302.9 263.1L303.2 262.2L303.5 261.3L303.8 262.0L304.1 261.8L304.4 263.1L304.7 263.6L305.0 263.0L305.3 262.1L305.6 262.8L305.9 263.6L306.2 262.6L306.5 262.7L306.8 263.2L307.1 263.5L307.4 263.3L307.7 263.4L308.0 263.3L308.3 262.9L308.6 263.2L308.9 263.3L309.2 262.7L309.5 263.3L309.8 263.5L310.1 263.6L310.4 263.5L310.7 262.7L311.0 262.6L311.3 263.4L311.6 263.4L311.9 263.4L312.2 263.0L312.5 262.7L312.8 263.4L313.1 263.5L313.4 263.9L313.7 264.3L314.0 264.3L314.3 264.0L314.6 262.8L314.9 262.1L315.2 262.7L315.5 262.6L315.8 262.7L316.1 263.5L316.4 262.8L316.7 263.9L317.0 264.5L317.3 265.2L317.6 264.6L317.9 264.6L318.2 263.2L318.5 262.9L318.8 263.5L319.1 262.6L319.4 263.3L319.7 262.4L320.0 261.4L320.3 262.6L320.6 261.4L320.9 262.1L321.2 260.1L321.5 259.8L321.8 260.4L322.1 260.4L322.4 260.1L322.7 261.3L323.0 262.0L323.3 262.3L323.6 261.7L323.9 262.3L324.2 263.0L324.5 263.7L324.8 263.5L325.1 263.2L325.4 263.4L325.7 264.2L326.0 263.3L326.3 263.4L326.6 262.6L326.9 264.3L327.2 263.8L327.5 262.7L327.8 263.9L328.1 264.5L328.4 264.2L328.7 263.8L329.0 263.9L329.3 263.1L329.6 263.1L329.9 263.0L330.2 263.0L330.5 262.6L330.8 263.4L331.1 262.5L331.4 261.5L331.7 261.5L332.0 261.4L332.3 260.8L332.6 260.5L332.9 259.0L333.2 258.0L333.5 257.9L333.8 257.5L334.1 255.6L334.4 254.8L334.7 255.3L335.0 255.8L335.3 256.0L335.6 257.2L335.9 257.7L336.2 259.1L336.5 259.0L336.8 259.7L337.1 261.0L337.4 262.0L337.7 262.4L338.0 261.9L338.3 262.4L338.6 263.0L338.9 263.4L339.2 262.2L339.5 261.8L339.8 262.5L340.1 262.3L340.4 262.6L340.7 261.7L341.0 261.2L341.3 260.2L341.6 260.2L341.9 260.1L342.2 258.7L342.5 257.6L342.8 258.0L343.1 257.3L343.4 257.1L343.7 257.0L344.0 257.9L344.3 257.6L344.6 258.2L344.9 259.2L345.2 259.5L345.5 259.3L345.8 261.0L346.1 261.2L346.4 262.2L346.7 262.4L347.0 262.8L347.3 262.7L347.6 262.9L347.9 263.7L348.2 264.1L348.5 264.7L348.8 264.5L349.1 264.0L349.4 265.1L349.7 265.8L350.0 265.0L350.3 264.3L350.6 263.9L350.9 264.3L351.2 263.9L351.5 264.8L351.8 264.5L352.1 264.3L352.4 264.6L352.7 263.8L353.0 263.6L353.3 264.5L353.6 265.3L353.9 264.6L354.2 265.0L354.5 263.9L354.8 264.7L355.1 265.4L355.4 265.8L355.7 264.1L356.0 264.6L356.3 264.5L356.6 265.0L356.9 264.7L357.2 264.9L357.5 264.5L357.8 264.7L358.1 265.4L358.4 266.0L358.7 265.4L359.0 265.1L359.3 265.1L359.6 265.7L359.9 264.0L360.2 263.7L360.5 264.5L360.8 265.4L361.1 265.8L361.4 265.7L361.7 265.7L362.0 265.3L362.3 264.8L362.6 264.6L362.9 265.2L363.2 264.7L363.5 265.4L363.8 265.5L364.1 264.8L364.4 264.8L364.7 264.9L365.0 265.5L365.3 265.2L365.6 264.8L365.9 265.4L366.2 266.0L366.5 265.5L366.8 265.2L367.1 264.8L367.4 264.6L367.7 265.0L368.0 265.1L368.3 265.1L368.6 265.7L368.9 265.1L369.2 265.0L369.5 265.3L369.8 265.2L370.1 264.2L370.4 265.2L370.7 265.7L371.0 264.7L371.3 265.1L371.6 264.8L371.9 264.5L372.2 265.1L372.5 264.8L372.8 263.9L373.1 264.6L373.4 265.4L373.7 264.8L374.0 264.6L374.3 264.8L374.6 264.9L374.9 265.4L375.2 264.6L375.5 264.4L375.8 265.3L376.1 265.8L376.4 265.7L376.7 265.6L377.0 264.6L377.3 264.1L377.6 264.5L377.9 264.8L378.2 264.1L378.5 264.8L378.8 265.3L379.1 265.0L379.4 266.2L379.7 265.6L380.0 264.3L380.3 264.2L380.6 264.6L380.9 265.4L381.2 265.3L381.5 264.8L381.8 265.2L382.1 265.6L382.4 265.2L382.7 264.1L383.0 264.1L383.3 264.2L383.6 264.1L383.9 265.2L384.2 264.7L384.5 264.5L384.8 264.5L385.1 265.1L385.4 265.4L385.7 265.6L386.0 265.7L386.3 264.8L386.6 266.1L386.9 266.5L387.2 264.9L387.5 264.8L387.8 265.4L388.1 265.7L388.4 264.9L388.7 264.7L389.0 266.0L389.3 264.6L389.6 263.4L389.9 265.0L390.2 265.8L390.5 266.2L390.8 266.5L391.1 266.8L391.4 264.8L391.7 264.1L392.0 264.2L392.3 265.6L392.6 264.6L392.9 263.6L393.2 263.5L393.5 264.6L393.8 264.6L394.1 264.8L394.4 264.2L394.7 264.3L395.0 264.9L395.3 264.7L395.6 264.9L395.9 264.6L396.2 264.4L396.5 264.6L396.8 264.3L397.1 264.5L397.4 264.4L397.7 263.8L398.0 263.6L398.3 263.5L398.6 263.3L398.9 262.6L399.2 261.9L399.5 261.2L399.8 260.2L400.1 259.8L400.4 258.8L400.7 258.4L401.0 259.6L401.3 259.4L401.6 261.0L401.9 262.7L402.2 262.8L402.5 262.5L402.8 263.5L403.1 263.6L403.4 263.2L403.7 263.5L404.0 263.3L404.3 263.3L404.6 263.2L404.9 262.1L405.2 262.9L405.5 262.9L405.8 261.0L406.1 259.6L406.4 259.3L406.7 259.6L407.0 258.7L407.3 259.5L407.6 260.8L407.9 260.2L408.2 261.0L408.5 261.5L408.8 262.3L409.1 263.0L409.4 263.2L409.7 264.0L410.0 264.4L410.3 265.0L410.6 265.0L410.9 264.9L411.2 265.4L411.5 264.7L411.8 264.9L412.1 264.5L412.4 265.3L412.7 264.5L413.0 265.0L413.3 264.4L413.6 264.5L413.9 263.9L414.2 263.8L414.5 263.9L414.8 264.5L415.1 264.6L415.4 264.4L415.7 263.8L416.0 263.0L416.3 262.9L416.6 262.5L416.9 260.6L417.2 259.3L417.5 259.2L417.8 259.1L418.1 257.7L418.4 257.3L418.7 257.5L419.0 258.4L419.3 259.4L419.6 260.6L419.9 262.6L420.2 263.6L420.5 263.6L420.8 264.0L421.1 264.7L421.4 264.6L421.7 264.8L422.0 265.1L422.3 265.1L422.6 266.0L422.9 267.0L423.2 265.5L423.5 265.2L423.8 264.7L424.1 264.8L424.4 265.3L424.7 265.5L425.0 265.1L425.3 264.6L425.6 265.3L425.9 265.1L426.2 265.5L426.5 265.3L426.8 265.3L427.1 265.1L427.4 264.4L427.7 265.7L428.0 265.1L428.3 265.6L428.6 265.7L428.9 265.0L429.2 264.7L429.5 265.5L429.8 265.0L430.1 265.4L430.4 265.7L430.7 265.1L431.0 264.4L431.3 265.0L431.6 265.6L431.9 265.2L432.2 265.7L432.5 264.7L432.8 264.6L433.1 264.3L433.4 265.0L433.7 266.3L434.0 266.0L434.3 265.4L434.6 265.3L434.9 266.1L435.2 265.5L435.5 265.2L435.8 266.1L436.1 265.0L436.4 265.6L436.7 266.0L437.0 266.4L437.3 266.9L437.6 266.2L437.9 265.4L438.2 266.1L438.5 265.7L438.8 264.8L439.1 264.7L439.4 264.7L439.7 264.3L440.0 265.6L440.3 266.0L440.6 265.8L440.9 265.1L441.2 265.5L441.5 266.2L441.8 265.8L442.1 265.4L442.4 265.1L442.7 265.5L443.0 266.2L443.3 265.9L443.6 267.0L443.9 267.1L444.2 265.9L444.5 264.5L444.8 265.2L445.1 266.0L445.4 265.1L445.7 264.8L446.0 265.5L446.3 266.6L446.6 265.0L446.9 263.9L447.2 264.9L447.5 265.2L447.8 265.1L448.1 264.6L448.4 264.3L448.7 263.6L449.0 263.7L449.3 262.9L449.6 262.2L449.9 261.1L450.2 261.2L450.5 260.0L450.8 258.8L451.1 258.4L451.4 257.6L451.7 258.0L452.0 259.2L452.3 259.9L452.6 260.5L452.9 260.9L453.2 260.8L453.5 261.3L453.8 262.1L454.1 260.8L454.4 259.6L454.7 259.7L455.0 259.2L455.3 259.0L455.6 258.9L455.9 258.8L456.2 260.0L456.5 260.8L456.8 261.8L457.1 261.9L457.4 262.4L457.7 263.5L458.0 264.8L458.3 263.8L458.6 265.1L458.9 265.1L459.2 265.6L459.5 265.1L459.8 265.4L460.1 265.8L460.4 266.5L460.7 265.6L461.0 265.4L461.3 265.1L461.6 265.5L461.9 265.1L462.2 265.4L462.5 265.8L462.8 265.8L463.1 265.0L463.4 265.1L463.7 266.1L464.0 265.4L464.3 265.6L464.6 265.3L464.9 264.7L465.2 265.3L465.5 265.7L465.8 266.3L466.1 264.7L466.4 265.1L466.7 265.8L467.0 265.1L467.3 264.4L467.6 265.6L467.9 265.6L468.2 264.9L468.5 264.7L468.8 264.9L469.1 265.3L469.4 265.0L469.7 264.7L470.0 265.1L470.3 265.2L470.6 264.4L470.9 265.0L471.2 264.2L471.5 264.0L471.8 263.6L472.1 263.3L472.4 262.6L472.7 261.1L473.0 261.7L473.3 262.6L473.6 262.0L473.9 262.4L474.2 262.0L474.5 262.8L474.8 264.3L475.1 264.0L475.4 263.6L475.7 263.7L476.0 263.7L476.3 264.9L476.6 265.0L476.9 265.6L477.2 265.8L477.5 265.2L477.8 264.7L478.1 264.7L478.4 265.2L478.7 265.7L479.0 266.3L479.3 265.3L479.6 265.7L479.9 265.1L480.2 265.3L480.5 266.1L480.8 266.0L481.1 265.4L481.4 265.4L481.7 266.2L482.0 265.7L482.3 265.4L482.6 265.4L482.9 267.2L483.2 267.1L483.5 266.5L483.8 267.1L484.1 266.3L484.4 265.7L484.7 266.2L485.0 266.5L485.3 265.4L485.6 266.4L485.9 266.7L486.2 266.8L486.5 266.3L486.8 266.2L487.1 264.8L487.4 265.5L487.7 266.2L488.0 266.0L488.3 265.6L488.6 264.8L488.9 264.9L489.2 264.3L489.5 264.9L489.8 265.2L490.1 264.9L490.4 265.1L490.7 265.0L491.0 265.2L491.3 264.3L491.6 263.4L491.9 263.3L492.2 263.6L492.5 264.0L492.8 263.9L493.1 263.4L493.4 263.6L493.7 263.3L494.0 263.6L494.3 262.9L494.6 263.9L494.9 263.5L495.2 263.0L495.5 262.7L495.8 263.5L496.1 263.2L496.4 264.0L496.7 264.7L497.0 264.0L497.3 263.9L497.6 264.0L497.9 263.8L498.2 264.6L498.5 263.6L498.8 263.2L499.1 262.2L499.4 260.9L499.7 260.5L500.0 259.2L500.3 258.5L500.6 259.1L500.9 259.8L501.2 261.7L501.5 263.9L501.8 264.8L502.1 264.5L502.4 265.6L502.7 266.1L503.0 266.3L503.3 266.3L503.6 264.9L503.9 265.6L504.2 265.5L504.5 266.1L504.8 265.7L505.1 266.1L505.4 266.4L505.7 265.2L506.0 265.4L506.3 265.6L506.6 265.8L506.9 265.3L507.2 266.6L507.5 267.2L507.8 266.2L508.1 266.0L508.4 264.5L508.7 265.1L509.0 266.3L509.3 266.3L509.6 266.5L509.9 266.8L510.2 266.1L510.5 265.7L510.8 265.5L511.1 265.5L511.4 264.7L511.7 265.9L512.0 264.2L512.3 264.2L512.6 265.2L512.9 265.7L513.2 265.5L513.5 265.6L513.8 264.5L514.1 264.1L514.4 264.4L514.7 263.6L515.0 264.0L515.3 264.1L515.6 263.6L515.9 262.3L516.2 262.7L516.5 262.2L516.8 263.4L517.1 263.2L517.4 263.9L517.7 264.0L518.0 262.9L518.3 264.0L518.6 264.2L518.9 264.6L519.2 263.4L519.5 263.3L519.8 263.7L520.1 263.5L520.4 264.6L520.7 264.6L521.0 265.2L521.3 265.6L521.6 265.8L521.9 265.0L522.2 266.0L522.5 266.1L522.8 265.3L523.1 265.3L523.4 265.3L523.7 266.7L524.0 266.9L524.3 265.8L524.6 266.1L524.9 266.5L525.2 266.7L525.5 266.5L525.8 267.1L526.1 266.1L526.4 266.7L526.7 266.6L527.0 266.5L527.3 265.8L527.6 265.3L527.9 266.0L528.2 266.5L528.5 265.8L528.8 265.4L529.1 266.2L529.4 266.3L529.7 265.9L530.0 266.4L530.3 266.8L530.6 266.8L530.9 267.2L531.2 267.3L531.5 266.6L531.8 265.9L532.1 265.6L532.4 267.0L532.7 267.0L533.0 267.1L533.3 266.3L533.6 266.5L533.9 266.1L534.2 265.8L534.5 265.7L534.8 266.4L535.1 267.0L535.4 267.1L535.7 266.8L536.0 266.8L536.3 267.9L536.6 267.8"/>
<path d="M36.8 310.8L37.1 309.9L37.4 309.2L37.7 308.7L38.0 310.2L38.3 311.3L38.6 310.8L38.9 311.0L39.2 311.2L39.5 310.6L39.8 311.9L40.1 310.6L40.4 311.1L40.7 312.3L41.0 311.0L41.3 310.7L41.6 310.5L41.9 310.6L42.2 309.6L42.5 310.4L42.8 311.7L43.1 311.1L43.4 310.8L43.7 311.1L44.0 311.2L44.3 311.1L44.6 311.0L44.9 310.1L45.2 311.0L45.5 310.7L45.8 311.3L46.1 310.9L46.4 310.4L46.7 310.7L47.0 310.6L47.3 311.5L47.6 311.3L47.9 311.4L48.2 310.7L48.5 311.8L48.8 311.3L49.1 311.9L49.4 311.6L49.7 310.7L50.0 311.1L50.3 311.0L50.6 311.5L50.9 312.1L51.2 311.9L51.5 311.8L51.8 310.7L52.1 311.3L52.4 311.6L52.7 311.9L53.0 311.2L53.3 311.6L53.6 311.5L53.9 310.4L54.2 310.6L54.5 311.4L54.8 310.6L55.1 310.7L55.4 311.8L55.7 311.7L56.0 311.4L56.3 311.4L56.6 311.2L56.9 311.1L57.2 311.2L57.5 311.8L57.8 312.3L58.1 311.4L58.4 311.4L58.7 311.3L59.0 310.9L59.3 311.7L59.6 312.0L59.9 311.4L60.2 311.9L60.5 311.6L60.8 312.4L61.1 312.5L61.4 311.4L61.7 310.5L62.0 311.1L62.3 310.8L62.6 310.8L62.9 311.6L63.2 312.5L63.5 311.9L63.8 311.5L64.1 310.7L64.4 311.1L64.7 311.1L65.0 311.9L65.3 311.6L65.6 311.8L65.9 311.9L66.2 311.9L66.5 312.5L66.8 312.3L67.1 311.9L67.4 312.1L67.7 312.5L68.0 312.9L68.3 312.4L68.6 312.8L68.9 311.9L69.2 311.7L69.5 311.3L69.8 312.3L70.1 311.5L70.4 311.5L70.7 312.4L71.0 311.9L71.3 311.8L71.6 312.6L71.9 312.3L72.2 312.6L72.5 312.2L72.8 312.7L73.1 312.9L73.4 312.6L73.7 313.2L74.0 312.3L74.3 312.1L74.6 312.4L74.9 312.9L75.2 312.2L75.5 312.1L75.8 312.6L76.1 313.1L76.4 312.1L76.7 311.6L77.0 312.3L77.3 312.7L77.6 312.2L77.9 312.2L78.2 311.4L78.5 312.2L78.8 312.6L79.1 312.9L79.4 312.8L79.7 312.8L80.0 312.1L80.3 312.5L80.6 311.5L80.9 312.0L81.2 312.9L81.5 312.6L81.8 311.1L82.1 311.6L82.4 310.2L82.7 307.8L83.0 304.9L83.3 303.1L83.6 305.5L83.9 307.6L84.2 310.1L84.5 311.3L84.8 311.2L85.1 313.0L85.4 313.5L85.7 312.4L86.0 312.7L86.3 312.6L86.6 312.7L86.9 312.5L87.2 313.0L87.5 312.4L87.8 313.5L88.1 313.5L88.4 314.1L88.7 312.2L89.0 312.5L89.3 312.2L89.6 312.7L89.9 313.1L90.2 312.3L90.5 311.9L90.8 311.9L91.1 313.1L91.4 313.9L91.7 313.8L92.0 313.1L92.3 312.5L92.6 312.6L92.9 312.0L93.2 312.2L93.5 313.5L93.8 313.1L94.1 313.2L94.4 313.2L94.7 314.0L95.0 314.0L95.3 312.9L95.6 312.8L95.9 312.9L96.2 314.0L96.5 314.1L96.8 313.5L97.1 314.5L97.4 313.4L97.7 312.4L98.0 312.0L98.3 313.0L98.6 313.4L98.9 313.1L99.2 313.6L99.5 314.1L99.8 313.6L100.1 314.0L100.4 314.5L100.7 313.8L101.0 313.2L101.3 313.7L101.6 314.1L101.9 314.7L102.2 313.3L102.5 312.6L102.8 313.5L103.1 313.7L103.4 313.4L103.7 313.8L104.0 313.9L104.3 314.2L104.6 313.2L104.9 313.1L105.2 313.4L105.5 313.5L105.8 314.4L106.1 314.1L106.4 313.9L106.7 314.6L107.0 314.3L107.3 314.4L107.6 314.3L107.9 313.7L108.2 313.6L108.5 313.6L108.8 313.1L109.1 313.6L109.4 314.3L109.7 314.0L110.0 313.6L110.3 314.9L110.6 313.6L110.9 314.2L111.2 314.5L111.5 314.6L111.8 313.6L112.1 313.8L112.4 313.9L112.7 314.6L113.0 314.3L113.3 314.3L113.6 314.6L113.9 315.2L114.2 314.7L114.5 314.5L114.8 313.7L115.1 314.2L115.4 313.6L115.7 314.5L116.0 314.2L116.3 313.5L116.6 313.4L116.9 314.0L117.2 314.2L117.5 313.8L117.8 313.9L118.1 313.9L118.4 313.9L118.7 314.1L119.0 314.5L119.3 315.1L119.6 314.7L119.9 314.3L120.2 315.3L120.5 315.2L120.8 314.5L121.1 314.8L121.4 314.1L121.7 313.8L122.0 314.1L122.3 315.3L122.6 314.7L122.9 314.7L123.2 314.5L123.5 314.3L123.8 314.8L124.1 315.2L124.4 315.6L124.7 314.5L125.0 315.4L125.3 314.9L125.6 313.8L125.9 315.1L126.2 315.8L126.5 315.5L126.8 314.9L127.1 314.5L127.4 313.6L127.7 314.6L128.0 314.7L128.3 314.2L128.6 314.6L128.9 314.7L129.2 315.8L129.5 314.2L129.8 313.8L130.1 313.4L130.4 314.3L130.7 314.8L131.0 314.7L131.3 314.5L131.6 315.2L131.9 315.2L132.2 315.5L132.5 314.7L132.8 313.8L133.1 314.4L133.4 314.4L133.7 315.1L134.0 314.6L134.3 314.7L134.6 314.7L134.9 314.0L135.2 314.6L135.5 315.3L135.8 314.7L136.1 314.8L136.4 314.9L136.7 314.6L137.0 314.8L137.3 315.1L137.6 314.8L137.9 315.0L138.2 314.8L138.5 314.3L138.8 314.4L139.1 316.2L139.4 316.0L139.7 315.3L140.0 315.7L140.3 315.9L140.6 315.7L140.9 314.8L141.2 314.1L141.5 314.2L141.8 315.0L142.1 316.1L142.4 316.2L142.7 315.2L143.0 315.1L143.3 316.1L143.6 316.4L143.9 315.0L144.2 315.4L144.5 315.3L144.8 315.0L145.1 315.0L145.4 315.0L145.7 315.0L146.0 314.4L146.3 315.2L146.6 315.8L146.9 315.9L147.2 315.8L147.5 315.6L147.8 315.6L148.1 316.3L148.4 315.4L148.7 315.5L149.0 315.9L149.3 315.2L149.6 314.4L149.9 314.7L150.2 314.8L150.5 315.0L150.8 315.0L151.1 315.7L151.4 315.6L151.7 315.4L152.0 315.0L152.3 315.6L152.6 315.8L152.9 316.1L153.2 314.6L153.5 314.6L153.8 315.0L154.1 313.7L154.4 313.9L154.7 313.6L155.0 312.8L155.3 311.8L155.6 311.3L155.9 310.1L156.2 310.3L156.5 308.9L156.8 308.4L157.1 307.8L157.4 307.7L157.7 308.0L158.0 308.5L158.3 308.9L158.6 309.7L158.9 310.0L159.2 310.7L159.5 311.6L159.8 312.1L160.1 312.5L160.4 313.4L160.7 314.5L161.0 314.7L161.3 314.4L161.6 314.9L161.9 315.4L162.2 316.3L162.5 314.5L162.8 314.8L163.1 314.5L163.4 315.6L163.7 315.2L164.0 315.4L164.3 315.4L164.6 315.3L164.9 313.5L165.2 314.2L165.5 315.0L165.8 314.6L166.1 315.5L166.4 315.8L166.7 314.6L167.0 314.8L167.3 315.6L167.6 316.2L167.9 315.8L168.2 315.2L168.5 314.2L168.8 314.2L169.1 314.0L169.4 313.3L169.7 313.3L170.0 312.6L170.3 312.5L170.6 313.5L170.9 312.9L171.2 313.8L171.5 313.2L171.8 313.4L172.1 313.2L172.4 314.1L172.7 315.4L173.0 314.8L173.3 314.1L173.6 315.6L173.9 314.8L174.2 314.9L174.5 315.0L174.8 314.5L175.1 316.2L175.4 316.3L175.7 315.4L176.0 315.5L176.3 315.2L176.6 315.1L176.9 315.1L177.2 314.6L177.5 315.0L177.8 315.3L178.1 316.3L178.4 315.0L178.7 316.1L179.0 316.1L179.3 315.6L179.6 315.4L179.9 316.6L180.2 316.5L180.5 315.6L180.8 315.4L181.1 315.8L181.4 316.4L181.7 315.2L182.0 315.5L182.3 315.9L182.6 314.8L182.9 315.4L183.2 316.0L183.5 315.3L183.8 315.1L184.1 314.6L184.4 315.3L184.7 314.7L185.0 315.0L185.3 315.4L185.6 315.1L185.9 315.8L186.2 315.8L186.5 315.7L186.8 315.7L187.1 314.9L187.4 314.0L187.7 315.3L188.0 315.4L188.3 314.6L188.6 314.4L188.9 315.2L189.2 314.4L189.5 314.1L189.8 314.3L190.1 315.2L190.4 313.4L190.7 311.9L191.0 312.4L191.3 311.4L191.6 310.2L191.9 309.7L192.2 308.0L192.5 306.2L192.8 303.1L193.1 300.5L193.4 296.9L193.7 293.0L194.0 290.6L194.3 289.6L194.6 289.1L194.9 290.0L195.2 293.7L195.5 297.7L195.8 301.6L196.1 304.2L196.4 307.2L196.7 308.8L197.0 310.3L197.3 311.4L197.6 312.3L197.9 312.9L198.2 313.5L198.5 313.2L198.8 313.3L199.1 314.0L199.4 314.3L199.7 314.3L200.0 314.7L200.3 315.0L200.6 315.5L200.9 314.3L201.2 315.4L201.5 313.5L201.8 313.6L202.1 314.7L202.4 314.3L202.7 314.5L203.0 314.4L203.3 313.9L203.6 313.9L203.9 314.5L204.2 315.0L204.5 315.1L204.8 314.8L205.1 314.6L205.4 315.0L205.7 313.5L206.0 314.4L206.3 315.3L206.6 315.5L206.9 315.2L207.2 315.0L207.5 314.6L207.8 313.5L208.1 312.0L208.4 312.4L208.7 312.4L209.0 312.5L209.3 310.7L209.6 309.3L209.9 307.8L210.2 304.7L210.5 301.9L210.8 298.3L211.1 293.4L211.4 288.2L211.7 282.5L212.0 278.8L212.3 277.5L212.6 278.5L212.9 280.5L213.2 284.4L213.5 289.4L213.8 294.7L214.1 298.1L214.4 301.9L214.7 304.2L215.0 305.6L215.3 305.8L215.6 306.2L215.9 306.5L216.2 305.8L216.5 306.2L216.8 306.9L217.1 309.8L217.4 311.1L217.7 312.5L218.0 313.1L218.3 313.1L218.6 313.3L218.9 313.6L219.2 315.4L219.5 315.2L219.8 315.1L220.1 315.3L220.4 315.4L220.7 315.0L221.0 315.0L221.3 315.0L221.6 312.7L221.9 312.8L222.2 312.2L222.5 311.8L222.8 310.4L223.1 311.1L223.4 312.3L223.7 312.0L224.0 313.1L224.3 313.1L224.6 313.6L224.9 313.4L225.2 314.0L225.5 314.1L225.8 315.0L226.1 314.4L226.4 315.3L226.7 315.1L227.0 315.5L227.3 316.3L227.6 315.5L227.9 315.2L228.2 315.6L228.5 315.9L228.8 315.6L229.1 316.5L229.4 315.9L229.7 315.3L230.0 315.2L230.3 315.5L230.6 316.0L230.9 316.2L231.2 315.6L231.5 315.1L231.8 315.0L232.1 314.2L232.4 315.6L232.7 315.5L233.0 314.8L233.3 314.7L233.6 313.7L233.9 314.2L234.2 312.5L234.5 311.2L234.8 310.6L235.1 307.5L235.4 305.6L235.7 303.0L236.0 301.2L236.3 300.4L236.6 300.7L236.9 303.1L237.2 304.9L237.5 306.5L237.8 309.8L238.1 310.6L238.4 311.8L238.7 313.1L239.0 313.5L239.3 314.9L239.6 314.3L239.9 314.4L240.2 315.7L240.5 315.1L240.8 315.2L241.1 314.9L241.4 315.4L241.7 315.5L242.0 314.5L242.3 315.4L242.6 315.6L242.9 316.8L243.2 317.3L243.5 316.5L243.8 316.4L244.1 316.7L244.4 316.4L244.7 315.0L245.0 314.9L245.3 315.2L245.6 314.8L245.9 315.3L246.2 315.5L246.5 315.0L246.8 315.6L247.1 315.9L247.4 314.9L247.7 314.3L248.0 313.2L248.3 311.8L248.6 309.8L248.9 307.5L249.2 306.0L249.5 304.0L249.8 301.8L250.1 301.3L250.4 301.9L250.7 304.6L251.0 307.4L251.3 309.5L251.6 311.3L251.9 312.1L252.2 313.0L252.5 314.4L252.8 315.7L253.1 315.0L253.4 314.5L253.7 315.0L254.0 315.6L254.3 316.5L254.6 316.5L254.9 315.5L255.2 315.3L255.5 315.7L255.8 315.9L256.1 315.6L256.4 316.5L256.7 316.0L257.0 316.2L257.3 316.1L257.6 316.4L257.9 316.2L258.2 316.5L258.5 316.9L258.8 316.7L259.1 316.9L259.4 315.7L259.7 315.8L260.0 315.5L260.3 315.3L260.6 316.3L260.9 317.3L261.2 316.7L261.5 316.6L261.8 315.3L262.1 316.0L262.4 315.7L262.7 316.3L263.0 316.8L263.3 316.2L263.6 316.7L263.9 315.9L264.2 316.1L264.5 315.8L264.8 316.1L265.1 315.8L265.4 314.8L265.7 315.6L266.0 315.9L266.3 316.6L266.6 314.8L266.9 315.8L267.2 316.5L267.5 317.1L267.8 316.6L268.1 315.7L268.4 315.9L268.7 314.8L269.0 314.1L269.3 313.3L269.6 312.8L269.9 312.6L270.2 310.3L270.5 309.7L270.8 310.8L271.1 311.1L271.4 311.7L271.7 312.0L272.0 313.1L272.3 313.5L272.6 313.9L272.9 314.4L273.2 315.2L273.5 315.4L273.8 315.6L274.1 316.6L274.4 316.2L274.7 315.6L275.0 315.2L275.3 315.6L275.6 315.0L275.9 315.2L276.2 315.2L276.5 315.5L276.8 315.7L277.1 314.5L277.4 316.6L277.7 316.5L278.0 315.8L278.3 315.8L278.6 316.4L278.9 316.3L279.2 317.0L279.5 316.1L279.8 315.4L280.1 315.2L280.4 316.0L280.7 316.5L281.0 315.7L281.3 316.8L281.6 316.7L281.9 316.2L282.2 316.6L282.5 315.0L282.8 314.7L283.1 316.0L283.4 316.4L283.7 316.3L284.0 315.9L284.3 315.3L284.6 316.1L284.9 316.0L285.2 316.4L285.5 316.0L285.8 315.3L286.1 316.1L286.4 316.3L286.7 316.0L287.0 315.0L287.3 314.5L287.6 315.0L287.9 314.3L288.2 313.7L288.5 313.6L288.8 313.0L289.1 312.0L289.4 311.3L289.7 311.8L290.0 311.0L290.3 311.9L290.6 312.7L290.9 312.6L291.2 313.6L291.5 315.0L291.8 314.9L292.1 314.9L292.4 316.3L292.7 315.9L293.0 316.0L293.3 316.6L293.6 315.2L293.9 315.3L294.2 315.5L294.5 316.4L294.8 315.9L295.1 317.2L295.4 316.5L295.7 316.2L296.0 316.4L296.3 315.7L296.6 315.2L296.9 315.3L297.2 315.5L297.5 315.0L297.8 315.3L298.1 314.9L298.4 314.8L298.7 314.7L299.0 315.2L299.3 315.1L299.6 313.7L299.9 311.4L300.2 309.7L300.5 309.3L300.8 308.3L301.1 307.1L301.4 306.2L301.7 307.1L302.0 308.2L302.3 310.3L302.6 311.7L302.9 312.4L303.2 313.3L303.5 315.0L303.8 315.1L304.1 315.7L304.4 315.9L304.7 316.3L305.0 316.5L305.3 315.8L305.6 315.8L305.9 316.0L306.2 314.4L306.5 315.7L306.8 316.0L307.1 316.6L307.4 316.5L307.7 316.1L308.0 315.6L308.3 316.0L308.6 316.1L308.9 316.4L309.2 316.4L309.5 316.1L309.8 316.5L310.1 316.2L310.4 316.6L310.7 316.7L311.0 317.1L311.3 316.7L311.6 317.3L311.9 316.3L312.2 316.0L312.5 316.5L312.8 315.8L313.1 316.5L313.4 316.7L313.7 316.6L314.0 316.7L314.3 316.7L314.6 317.1L314.9 316.3L315.2 315.3L315.5 316.1L315.8 316.9L316.1 317.1L316.4 316.9L316.7 316.4L317.0 316.0L317.3 317.1L317.6 316.1L317.9 315.4L318.2 315.1L318.5 317.1L318.8 316.3L319.1 315.3L319.4 316.5L319.7 316.4L320.0 315.3L320.3 316.1L320.6 315.9L320.9 316.0L321.2 315.9L321.5 314.9L321.8 315.4L322.1 313.9L322.4 313.0L322.7 313.4L323.0 312.4L323.3 312.7L323.6 313.5L323.9 313.1L324.2 313.4L324.5 314.7L324.8 315.0L325.1 315.2L325.4 315.9L325.7 315.3L326.0 316.0L326.3 315.5L326.6 316.0L326.9 315.5L327.2 316.2L327.5 316.0L327.8 315.8L328.1 316.0L328.4 316.0L328.7 316.4L329.0 315.8L329.3 316.1L329.6 315.7L329.9 315.4L330.2 315.4L330.5 315.1L330.8 315.8L331.1 315.8L331.4 315.5L331.7 314.5L332.0 314.9L332.3 315.9L332.6 315.5L332.9 314.3L333.2 313.8L333.5 313.5L333.8 313.4L334.1 312.9L334.4 311.4L334.7 310.4L335.0 309.5L335.3 309.1L335.6 309.1L335.9 307.8L336.2 308.1L336.5 307.6L336.8 308.0L337.1 308.5L337.4 310.1L337.7 312.2L338.0 313.2L338.3 313.4L338.6 313.6L338.9 314.3L339.2 313.6L339.5 313.6L339.8 314.2L340.1 314.6L340.4 314.0L340.7 314.7L341.0 316.0L341.3 315.3L341.6 314.8L341.9 314.7L342.2 315.3L342.5 315.1L342.8 314.4L343.1 313.6L343.4 312.1L343.7 311.9L344.0 311.9L344.3 311.4L344.6 310.9L344.9 310.5L345.2 311.2L345.5 310.6L345.8 309.5L346.1 310.4L346.4 310.8L346.7 311.0L347.0 311.6L347.3 312.7L347.6 314.0L347.9 313.4L348.2 313.9L348.5 314.2L348.8 313.9L349.1 314.8L349.4 314.9L349.7 315.6L350.0 316.2L350.3 316.8L350.6 316.0L350.9 315.9L351.2 316.7L351.5 317.3L351.8 316.6L352.1 316.6L352.4 316.7L352.7 316.6L353.0 316.0L353.3 315.8L353.6 315.8L353.9 316.1L354.2 316.4L354.5 315.9L354.8 315.9L355.1 316.3L355.4 316.4L355.7 316.3L356.0 316.0L356.3 317.3L356.6 316.5L356.9 316.2L357.2 316.0L357.5 316.8L357.8 317.1L358.1 316.6L358.4 316.4L358.7 316.6L359.0 317.8L359.3 317.1L359.6 316.4L359.9 316.7L360.2 317.2L360.5 316.8L360.8 316.8L361.1 316.7L361.4 316.6L361.7 317.1L362.0 317.6L362.3 317.0L362.6 316.4L362.9 316.1L363.2 316.4L363.5 316.2L363.8 316.2L364.1 316.9L364.4 317.0L364.7 317.3L365.0 317.0L365.3 316.6L365.6 317.2L365.9 317.1L366.2 317.3L366.5 316.2L366.8 316.4L367.1 316.8L367.4 317.6L367.7 317.0L368.0 316.0L368.3 316.1L368.6 316.7L368.9 315.8L369.2 316.1L369.5 316.5L369.8 316.5L370.1 316.9L370.4 317.2L370.7 316.8L371.0 316.2L371.3 317.4L371.6 317.3L371.9 316.3L372.2 316.3L372.5 316.1L372.8 317.2L373.1 316.6L373.4 316.9L373.7 317.1L374.0 317.4L374.3 316.9L374.6 316.6L374.9 317.1L375.2 317.2L375.5 316.5L375.8 316.4L376.1 316.0L376.4 317.2L376.7 316.6L377.0 317.2L377.3 317.4L377.6 317.3L377.9 317.2L378.2 316.4L378.5 316.6L378.8 316.3L379.1 316.4L379.4 316.5L379.7 317.9L380.0 317.1L380.3 317.1L380.6 316.6L380.9 317.4L381.2 316.7L381.5 316.4L381.8 316.1L382.1 315.3L382.4 315.1L382.7 316.0L383.0 315.6L383.3 316.1L383.6 317.0L383.9 316.2L384.2 316.8L384.5 315.9L384.8 315.0L385.1 315.7L385.4 316.0L385.7 315.6L386.0 314.6L386.3 314.3L386.6 315.4L386.9 316.1L387.2 315.9L387.5 314.8L387.8 314.8L388.1 315.3L388.4 315.8L388.7 315.7L389.0 315.7L389.3 315.3L389.6 314.1L389.9 314.9L390.2 315.7L390.5 315.5L390.8 317.0L391.1 316.1L391.4 316.7L391.7 317.1L392.0 317.1L392.3 316.0L392.6 316.5L392.9 317.4L393.2 316.9L393.5 316.8L393.8 315.5L394.1 316.6L394.4 316.8L394.7 316.5L395.0 315.7L395.3 316.1L395.6 316.4L395.9 316.4L396.2 316.2L396.5 317.3L396.8 317.3L397.1 316.8L397.4 317.3L397.7 316.3L398.0 316.9L398.3 317.7L398.6 317.1L398.9 316.7L399.2 316.8L399.5 316.5L399.8 316.0L400.1 315.9L400.4 316.1L400.7 316.0L401.0 315.8L401.3 315.0L401.6 315.1L401.9 315.0L402.2 313.9L402.5 314.0L402.8 312.5L403.1 311.9L403.4 311.9L403.7 311.7L404.0 311.9L404.3 312.7L404.6 313.8L404.9 314.3L405.2 315.7L405.5 315.4L405.8 315.2L406.1 315.3L406.4 315.8L406.7 315.7L407.0 315.6L407.3 315.7L407.6 315.4L407.9 313.9L408.2 314.0L408.5 313.5L408.8 313.1L409.1 312.8L409.4 313.6L409.7 314.1L410.0 314.3L410.3 314.3L410.6 315.3L410.9 314.9L411.2 314.9L411.5 316.3L411.8 316.0L412.1 315.4L412.4 315.9L412.7 316.5L413.0 317.0L413.3 316.4L413.6 316.0L413.9 315.7L414.2 315.7L414.5 316.2L414.8 316.2L415.1 316.6L415.4 316.2L415.7 316.8L416.0 316.3L416.3 316.1L416.6 315.8L416.9 315.7L417.2 315.9L417.5 314.3L417.8 313.5L418.1 313.0L418.4 312.5L418.7 311.2L419.0 311.3L419.3 310.0L419.6 310.1L419.9 311.0L420.2 311.7L420.5 312.2L420.8 314.0L421.1 315.3L421.4 315.1L421.7 315.9L422.0 316.5L422.3 317.6L422.6 316.7L422.9 316.7L423.2 316.5L423.5 316.8L423.8 316.6L424.1 316.5L424.4 316.7L424.7 317.2L425.0 316.9L425.3 317.3L425.6 317.0L425.9 317.4L426.2 316.3L426.5 316.3L426.8 317.3L427.1 317.8L427.4 316.7L427.7 315.9L428.0 317.4L428.3 317.3L428.6 316.8L428.9 317.8L429.2 317.8L429.5 316.8L429.8 316.8L430.1 317.4L430.4 317.6L430.7 317.9L431.0 317.7L431.3 318.1L431.6 317.0L431.9 316.4L432.2 316.5L432.5 316.5L432.8 316.8L433.1 316.7L433.4 317.5L433.7 318.0L434.0 318.0L434.3 316.8L434.6 316.2L434.9 316.7L435.2 317.0L435.5 316.8L435.8 317.3L436.1 317.4L436.4 317.2L436.7 316.7L437.0 317.3L437.3 316.3L437.6 315.6L437.9 316.7L438.2 317.6L438.5 316.9L438.8 316.0L439.1 316.6L439.4 317.5L439.7 317.1L440.0 316.7L440.3 316.2L440.6 316.6L440.9 316.6L441.2 317.6L441.5 317.2L441.8 317.1L442.1 316.0L442.4 316.7L442.7 317.4L443.0 317.9L443.3 317.6L443.6 316.8L443.9 318.2L444.2 316.9L444.5 316.5L444.8 316.4L445.1 316.0L445.4 316.3L445.7 316.2L446.0 316.2L446.3 316.1L446.6 316.4L446.9 316.7L447.2 316.0L447.5 315.7L447.8 316.4L448.1 316.3L448.4 316.3L448.7 315.4L449.0 315.4L449.3 314.7L449.6 314.1L449.9 314.1L450.2 313.9L450.5 313.4L450.8 312.2L451.1 312.4L451.4 312.0L451.7 310.8L452.0 309.7L452.3 309.2L452.6 309.7L452.9 309.3L453.2 310.3L453.5 309.4L453.8 309.9L454.1 311.7L454.4 312.0L454.7 313.4L455.0 313.4L455.3 313.6L455.6 314.4L455.9 314.9L456.2 314.7L456.5 313.9L456.8 313.5L457.1 313.4L457.4 312.2L457.7 311.4L458.0 311.6L458.3 313.7L458.6 313.4L458.9 313.1L459.2 313.3L459.5 314.1L459.8 313.8L460.1 315.0L460.4 316.1L460.7 316.0L461.0 315.6L461.3 316.2L461.6 316.6L461.9 317.4L462.2 317.3L462.5 317.2L462.8 318.0L463.1 317.0L463.4 317.5L463.7 317.3L464.0 316.9L464.3 316.8L464.6 317.4L464.9 317.7L465.2 316.4L465.5 317.1L465.8 317.5L466.1 316.7L466.4 316.8L466.7 317.8L467.0 317.1L467.3 317.0L467.6 317.4L467.9 317.4L468.2 317.6L468.5 317.7L468.8 318.1L469.1 317.7L469.4 317.6L469.7 316.9L470.0 317.2L470.3 317.1L470.6 317.9L470.9 317.6L471.2 317.8L471.5 317.1L471.8 316.7L472.1 317.3L472.4 316.8L472.7 316.0L473.0 316.2L473.3 316.0L473.6 316.4L473.9 315.4L474.2 315.1L474.5 314.8L474.8 315.1L475.1 315.3L475.4 315.8L475.7 316.1L476.0 315.7L476.3 316.4L476.6 316.1L476.9 316.2L477.2 316.8L477.5 316.1L477.8 316.9L478.1 317.6L478.4 317.3L478.7 317.4L479.0 316.6L479.3 316.7L479.6 315.6L479.9 316.1L480.2 316.8L480.5 318.2L480.8 318.1L481.1 316.2L481.4 316.5L481.7 316.8L482.0 317.9L482.3 317.7L482.6 317.1L482.9 317.6L483.2 317.7L483.5 317.0L483.8 317.6L484.1 317.6L484.4 317.4L484.7 316.3L485.0 316.6L485.3 315.8L485.6 316.9L485.9 316.8L486.2 317.9L486.5 317.8L486.8 316.5L487.1 317.6L487.4 317.1L487.7 317.5L488.0 317.2L488.3 316.8L488.6 316.7L488.9 316.8L489.2 317.6L489.5 316.9L489.8 316.3L490.1 316.9L490.4 316.5L490.7 316.7L491.0 316.2L491.3 316.4L491.6 315.8L491.9 315.7L492.2 316.3L492.5 316.5L492.8 316.1L493.1 316.0L493.4 317.0L493.7 315.4L494.0 314.0L494.3 315.1L494.6 314.6L494.9 314.1L495.2 315.2L495.5 315.1L495.8 314.3L496.1 314.0L496.4 314.3L496.7 314.6L497.0 313.9L497.3 314.8L497.6 314.6L497.9 314.7L498.2 315.2L498.5 314.5L498.8 314.8L499.1 314.3L499.4 313.0L499.7 314.2L500.0 314.5L500.3 314.4L500.6 314.5L500.9 313.1L501.2 312.5L501.5 311.5L501.8 310.6L502.1 309.5L502.4 310.7L502.7 312.3L503.0 314.4L503.3 314.7L503.6 315.7L503.9 315.9L504.2 315.3L504.5 315.6L504.8 316.6L505.1 317.2L505.4 317.6L505.7 316.7L506.0 316.1L506.3 316.5L506.6 316.3L506.9 317.5L507.2 316.9L507.5 317.1L507.8 318.0L508.1 317.3L508.4 316.4L508.7 317.0L509.0 316.6L509.3 316.2L509.6 316.2L509.9 316.2L510.2 317.0L510.5 316.5L510.8 316.7L511.1 317.4L511.4 316.8L511.7 316.6L512.0 316.7L512.3 316.4L512.6 316.6L512.9 316.6L513.2 316.9L513.5 316.2L513.8 315.7L514.1 315.6L514.4 314.8L514.7 315.6L515.0 316.4L515.3 316.8L515.6 316.0L515.9 315.8L516.2 314.5L516.5 315.7L516.8 315.7L517.1 315.8L517.4 315.1L517.7 315.4L518.0 315.4L518.3 315.2L518.6 315.7L518.9 316.4L519.2 315.2L519.5 315.7L519.8 316.6L520.1 317.0L520.4 315.9L520.7 315.5L521.0 315.5L521.3 316.7L521.6 316.8L521.9 316.9L522.2 316.7L522.5 316.2L522.8 317.6L523.1 317.6L523.4 316.5L523.7 316.6L524.0 316.5L524.3 316.9L524.6 318.3L524.9 317.9L525.2 317.1L525.5 318.4L525.8 317.9L526.1 317.4L526.4 316.9L526.7 316.9L527.0 317.6L527.3 318.9L527.6 317.1L527.9 317.0L528.2 317.9L528.5 317.6L528.8 317.4L529.1 318.9L529.4 317.6L529.7 317.1L530.0 317.4L530.3 317.9L530.6 318.1L530.9 318.2L531.2 317.8L531.5 317.5L531.8 318.3L532.1 317.6L532.4 317.3L532.7 318.1L533.0 318.3L533.3 317.4L533.6 317.3L533.9 317.3L534.2 317.1L534.5 317.4L534.8 318.0L535.1 317.8L535.4 316.5L535.7 318.3L536.0 318.4L536.3 317.3L536.6 318.3"/>
</g>
<g fill="none" stroke="#000" stroke-width="1.4">
<path d="M82.3 373.7V365.5M155.9 373.7V356.5M171.2 373.7V365.7M195.2 373.7V336.2M211.6 373.7V328.1M236.7 373.7V352.6M249.2 373.7V354.8M270.9 373.7V361.3M289.3 373.7V362.4M300.9 373.7V358.7M324.9 373.7V363.9M337.3 373.7V356.9M345.2 373.7V360.9M348.9 373.7V361.3M370.1 373.7V366.3M381.8 373.7V366.8M389.7 373.7V362.4M403.9 373.7V361.3M409.8 373.7V362.4M419.1 373.7V354.3M455.2 373.7V348.9M466.5 373.7V366.3M476.4 373.7V365.2" stroke-width="1.7"/>
<path d="M36.3 373.7V379.7M78.0 373.7V376.7M119.8 373.7V379.7M161.5 373.7V376.7M203.2 373.7V379.7M244.9 373.7V376.7M286.7 373.7V379.7M328.4 373.7V376.7M370.1 373.7V379.7M411.8 373.7V376.7M453.6 373.7V379.7M495.3 373.7V376.7M537.0 373.7V379.7"/>
<path d="M36.3 324.4H537"/>
<rect x="36.3" y="8.7" width="500.7" height="365" stroke-width="1.6"/>
</g>
<polygon points="89.70,54.40 90.88,57.18 93.88,57.44 91.60,59.42 92.29,62.36 89.70,60.80 87.11,62.36 87.80,59.42 85.52,57.44 88.52,57.18" fill="#f00"/><polygon points="191.00,14.20 192.18,16.98 195.18,17.24 192.90,19.22 193.59,22.16 191.00,20.60 188.41,22.16 189.10,19.22 186.82,17.24 189.82,16.98" fill="#f00"/><polygon points="204.60,73.60 205.78,76.38 208.78,76.64 206.50,78.62 207.19,81.56 204.60,80.00 202.01,81.56 202.70,78.62 200.42,76.64 203.42,76.38" fill="#f00"/><polygon points="376.00,75.00 377.18,77.78 380.18,78.04 377.90,80.02 378.59,82.96 376.00,81.40 373.41,82.96 374.10,80.02 371.82,78.04 374.82,77.78" fill="#f00"/><polygon points="164.0,52.0 167.8,55.8 164.0,59.6 160.2,55.8" fill="#00f"/><polygon points="228.7,78.6 232.5,82.4 228.7,86.2 224.9,82.4" fill="#00f"/><polygon points="293.2,82.6 297.0,86.4 293.2,90.2 289.4,86.4" fill="#00f"/><circle cx="65.4" cy="81.5" r="3.5" fill="#f0f"/><circle cx="100.8" cy="88.6" r="3.5" fill="#f0f"/><circle cx="306.3" cy="84.5" r="3.5" fill="#f0f"/><polygon points="438.90,17.40 440.08,20.18 443.08,20.44 440.80,22.42 441.49,25.36 438.90,23.80 436.31,25.36 437.00,22.42 434.72,20.44 437.72,20.18" fill="#f00"/><polygon points="438.9,41.4 442.7,45.2 438.9,49.0 435.1,45.2" fill="#00f"/><circle cx="439.3" cy="68.5" r="3.5" fill="#f0f"/>
<g font-family="Liberation Serif, serif" fill="#000">
<g font-size="15.4" stroke="#000" stroke-width="0.4"><text x="36.3" y="397.4" text-anchor="middle">10</text><text x="119.8" y="397.4" text-anchor="middle">20</text><text x="203.2" y="397.4" text-anchor="middle">30</text><text x="286.7" y="397.4" text-anchor="middle">40</text><text x="370.1" y="397.4" text-anchor="middle">50</text><text x="453.6" y="397.4" text-anchor="middle">60</text><text x="537.0" y="397.4" text-anchor="middle">70</text></g>
<g font-size="14.7" font-weight="bold">
<text x="497.5" y="100.2">(a)</text>
<text x="497.5" y="148.5">(b)</text>
<text x="497.5" y="196.6">(c)</text>
<text x="497.5" y="250.0">(d)</text>
<text x="497.8" y="295.6">(e)</text>
</g>
<g font-size="13.5">
<text x="457" y="26.7">Y(OH)<tspan font-size="8.5" dy="3">3</tspan></text>
<text x="457" y="49.6">MnO(OH)</text>
<text transform="translate(457.4,70.8) scale(0.83,1)">MnO(OH)<tspan font-size="9" dy="2.7">2</tspan><tspan dy="-2.7">&#183;H</tspan><tspan font-size="9" dy="2.7">2</tspan><tspan dy="-2.7">O</tspan></text>
<text x="376.4" y="343.6" font-size="14.8">JCPDS Card No. 34-0667</text>
</g>
<text x="245" y="421.8" font-size="17.6">2<tspan font-style="italic">&#952;</tspan>/(degree)</text>
<text transform="translate(20,244) rotate(-90)" font-size="18">Intensity/(a.u.)</text>
</g>
</svg>
</body></html>
